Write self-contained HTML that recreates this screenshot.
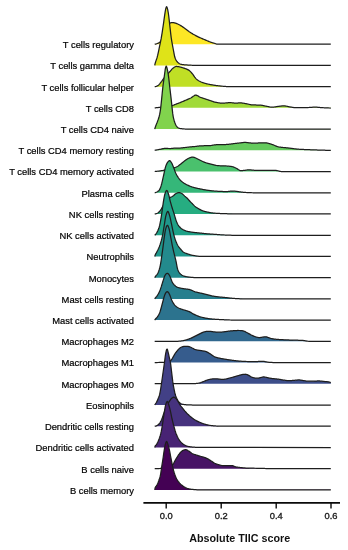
<!DOCTYPE html>
<html lang="en"><head><meta charset="utf-8"><title>Absolute TIIC score</title>
<style>html,body{margin:0;padding:0;background:#fff}body{width:348px;height:550px;overflow:hidden}svg{display:block}</style></head>
<body>
<svg width="348" height="550" viewBox="0 0 348 550">
<rect width="348" height="550" fill="#ffffff"/>
<path d="M154.7,44.20 L155.2,44.14 L155.7,44.04 L156.2,43.90 L156.7,43.73 L157.2,43.54 L157.7,43.33 L158.2,43.11 L158.7,42.84 L159.2,42.53 L159.7,42.15 L160.2,41.73 L160.7,41.24 L161.2,40.70 L161.7,40.00 L162.2,39.07 L162.7,37.96 L163.2,36.74 L163.7,35.46 L164.2,34.16 L164.7,32.91 L165.2,31.73 L165.7,30.46 L166.2,29.12 L166.7,27.82 L167.2,26.63 L167.7,25.65 L168.2,24.94 L168.7,24.33 L169.2,23.79 L169.7,23.35 L170.2,23.02 L170.7,22.84 L171.2,22.69 L171.7,22.58 L172.2,22.51 L172.7,22.51 L173.2,22.56 L173.7,22.66 L174.2,22.78 L174.7,22.92 L175.2,23.05 L175.7,23.21 L176.2,23.39 L176.7,23.58 L177.2,23.80 L177.7,24.03 L178.2,24.27 L178.7,24.52 L179.2,24.78 L179.7,25.04 L180.2,25.31 L180.7,25.59 L181.2,25.89 L181.7,26.21 L182.2,26.54 L182.7,26.88 L183.2,27.23 L183.7,27.58 L184.2,27.94 L184.7,28.29 L185.2,28.64 L185.7,29.00 L186.2,29.38 L186.7,29.76 L187.2,30.14 L187.7,30.53 L188.2,30.91 L188.7,31.28 L189.2,31.65 L189.7,32.00 L190.2,32.33 L190.7,32.66 L191.2,32.98 L191.7,33.29 L192.2,33.59 L192.7,33.89 L193.2,34.19 L193.7,34.47 L194.2,34.76 L194.7,35.04 L195.2,35.31 L195.7,35.58 L196.2,35.84 L196.7,36.10 L197.2,36.35 L197.7,36.61 L198.2,36.85 L198.7,37.09 L199.2,37.33 L199.7,37.56 L200.2,37.79 L200.7,38.01 L201.2,38.23 L201.7,38.44 L202.2,38.65 L202.7,38.85 L203.2,39.06 L203.7,39.26 L204.2,39.47 L204.7,39.67 L205.2,39.88 L205.7,40.10 L206.2,40.32 L206.7,40.54 L207.2,40.75 L207.7,40.97 L208.2,41.18 L208.7,41.39 L209.2,41.60 L209.7,41.79 L210.2,41.97 L210.7,42.15 L211.2,42.32 L211.7,42.49 L212.2,42.66 L212.7,42.81 L213.2,42.97 L213.7,43.11 L214.2,43.26 L214.7,43.42 L215.2,43.58 L215.7,43.75 L216.2,43.90 L216.7,44.03 L217.2,44.13 L217.7,44.19 L330.8,44.20 L330.8,44.20 L154.7,44.20 Z" fill="#fde725" fill-opacity="1" stroke="none"/>
<path d="M154.7,44.20 L155.2,44.14 L155.7,44.04 L156.2,43.90 L156.7,43.73 L157.2,43.54 L157.7,43.33 L158.2,43.11 L158.7,42.84 L159.2,42.53 L159.7,42.15 L160.2,41.73 L160.7,41.24 L161.2,40.70 L161.7,40.00 L162.2,39.07 L162.7,37.96 L163.2,36.74 L163.7,35.46 L164.2,34.16 L164.7,32.91 L165.2,31.73 L165.7,30.46 L166.2,29.12 L166.7,27.82 L167.2,26.63 L167.7,25.65 L168.2,24.94 L168.7,24.33 L169.2,23.79 L169.7,23.35 L170.2,23.02 L170.7,22.84 L171.2,22.69 L171.7,22.58 L172.2,22.51 L172.7,22.51 L173.2,22.56 L173.7,22.66 L174.2,22.78 L174.7,22.92 L175.2,23.05 L175.7,23.21 L176.2,23.39 L176.7,23.58 L177.2,23.80 L177.7,24.03 L178.2,24.27 L178.7,24.52 L179.2,24.78 L179.7,25.04 L180.2,25.31 L180.7,25.59 L181.2,25.89 L181.7,26.21 L182.2,26.54 L182.7,26.88 L183.2,27.23 L183.7,27.58 L184.2,27.94 L184.7,28.29 L185.2,28.64 L185.7,29.00 L186.2,29.38 L186.7,29.76 L187.2,30.14 L187.7,30.53 L188.2,30.91 L188.7,31.28 L189.2,31.65 L189.7,32.00 L190.2,32.33 L190.7,32.66 L191.2,32.98 L191.7,33.29 L192.2,33.59 L192.7,33.89 L193.2,34.19 L193.7,34.47 L194.2,34.76 L194.7,35.04 L195.2,35.31 L195.7,35.58 L196.2,35.84 L196.7,36.10 L197.2,36.35 L197.7,36.61 L198.2,36.85 L198.7,37.09 L199.2,37.33 L199.7,37.56 L200.2,37.79 L200.7,38.01 L201.2,38.23 L201.7,38.44 L202.2,38.65 L202.7,38.85 L203.2,39.06 L203.7,39.26 L204.2,39.47 L204.7,39.67 L205.2,39.88 L205.7,40.10 L206.2,40.32 L206.7,40.54 L207.2,40.75 L207.7,40.97 L208.2,41.18 L208.7,41.39 L209.2,41.60 L209.7,41.79 L210.2,41.97 L210.7,42.15 L211.2,42.32 L211.7,42.49 L212.2,42.66 L212.7,42.81 L213.2,42.97 L213.7,43.11 L214.2,43.26 L214.7,43.42 L215.2,43.58 L215.7,43.75 L216.2,43.90 L216.7,44.03 L217.2,44.13 L217.7,44.19 L330.8,44.20" fill="none" stroke="#1e1e1e" stroke-width="1.25" stroke-linejoin="round"/>
<path d="M154.7,65.38 L155.2,63.23 L155.7,61.60 L156.2,60.11 L156.7,58.73 L157.2,57.13 L157.7,55.14 L158.2,52.92 L158.7,50.62 L159.2,48.18 L159.7,45.67 L160.2,43.26 L160.7,40.92 L161.2,38.38 L161.7,35.48 L162.2,32.30 L162.7,28.96 L163.2,25.58 L163.7,22.05 L164.2,18.36 L164.7,14.81 L165.2,11.63 L165.7,8.85 L166.2,7.26 L166.7,6.73 L167.2,7.86 L167.7,9.63 L168.2,12.28 L168.7,15.75 L169.2,20.15 L169.7,24.72 L170.2,29.13 L170.7,33.64 L171.2,37.68 L171.7,40.86 L172.2,43.60 L172.7,46.33 L173.2,49.01 L173.7,51.61 L174.2,54.37 L174.7,56.79 L175.2,58.31 L175.7,59.47 L176.2,60.40 L176.7,61.15 L177.2,61.77 L177.7,62.30 L178.2,62.75 L178.7,63.12 L179.2,63.44 L179.7,63.74 L180.2,64.01 L180.7,64.22 L181.2,64.36 L181.7,64.45 L182.2,64.53 L182.7,64.60 L183.2,64.66 L183.7,64.72 L184.2,64.77 L184.7,64.81 L185.2,64.85 L185.7,64.89 L186.2,64.92 L186.7,64.96 L187.2,64.99 L187.7,65.02 L188.2,65.04 L188.7,65.07 L189.2,65.10 L189.7,65.13 L190.2,65.16 L190.7,65.19 L191.2,65.22 L191.7,65.25 L192.2,65.27 L192.7,65.30 L193.2,65.32 L194.2,65.36 L195.2,65.38 L330.8,65.38 L330.8,65.42 L154.7,65.42 Z" fill="#dfe318" fill-opacity="1" stroke="none"/>
<path d="M154.7,65.38 L155.2,63.23 L155.7,61.60 L156.2,60.11 L156.7,58.73 L157.2,57.13 L157.7,55.14 L158.2,52.92 L158.7,50.62 L159.2,48.18 L159.7,45.67 L160.2,43.26 L160.7,40.92 L161.2,38.38 L161.7,35.48 L162.2,32.30 L162.7,28.96 L163.2,25.58 L163.7,22.05 L164.2,18.36 L164.7,14.81 L165.2,11.63 L165.7,8.85 L166.2,7.26 L166.7,6.73 L167.2,7.86 L167.7,9.63 L168.2,12.28 L168.7,15.75 L169.2,20.15 L169.7,24.72 L170.2,29.13 L170.7,33.64 L171.2,37.68 L171.7,40.86 L172.2,43.60 L172.7,46.33 L173.2,49.01 L173.7,51.61 L174.2,54.37 L174.7,56.79 L175.2,58.31 L175.7,59.47 L176.2,60.40 L176.7,61.15 L177.2,61.77 L177.7,62.30 L178.2,62.75 L178.7,63.12 L179.2,63.44 L179.7,63.74 L180.2,64.01 L180.7,64.22 L181.2,64.36 L181.7,64.45 L182.2,64.53 L182.7,64.60 L183.2,64.66 L183.7,64.72 L184.2,64.77 L184.7,64.81 L185.2,64.85 L185.7,64.89 L186.2,64.92 L186.7,64.96 L187.2,64.99 L187.7,65.02 L188.2,65.04 L188.7,65.07 L189.2,65.10 L189.7,65.13 L190.2,65.16 L190.7,65.19 L191.2,65.22 L191.7,65.25 L192.2,65.27 L192.7,65.30 L193.2,65.32 L194.2,65.36 L195.2,65.38 L330.8,65.38" fill="none" stroke="#1e1e1e" stroke-width="1.25" stroke-linejoin="round"/>
<path d="M154.7,86.67 L155.2,86.63 L155.7,86.52 L156.2,86.35 L156.7,86.14 L157.2,85.90 L157.7,85.63 L158.2,85.34 L158.7,84.94 L159.2,84.42 L159.7,83.82 L160.2,83.18 L160.7,82.54 L161.2,81.92 L161.7,81.28 L162.2,80.60 L162.7,79.91 L163.2,79.22 L163.7,78.55 L164.2,77.92 L164.7,77.31 L165.2,76.72 L165.7,76.14 L166.2,75.57 L166.7,75.00 L167.2,74.45 L167.7,73.90 L168.2,73.37 L168.7,72.85 L169.2,72.32 L169.7,71.79 L170.2,71.25 L170.7,70.66 L171.2,70.04 L171.7,69.44 L172.2,68.88 L172.7,68.40 L173.2,68.03 L173.7,67.66 L174.2,67.31 L174.7,67.00 L175.2,66.74 L175.7,66.55 L176.2,66.47 L176.7,66.48 L177.2,66.51 L177.7,66.57 L178.2,66.65 L178.7,66.73 L179.2,66.82 L179.7,66.90 L180.2,67.01 L180.7,67.14 L181.2,67.28 L181.7,67.43 L182.2,67.58 L182.7,67.73 L183.2,67.88 L183.7,68.04 L184.2,68.21 L184.7,68.38 L185.2,68.56 L185.7,68.75 L186.2,68.95 L186.7,69.14 L187.2,69.35 L187.7,69.57 L188.2,69.82 L188.7,70.11 L189.2,70.45 L189.7,70.87 L190.2,71.35 L190.7,71.88 L191.2,72.45 L191.7,73.03 L192.2,73.62 L192.7,74.21 L193.2,74.86 L193.7,75.57 L194.2,76.30 L194.7,77.03 L195.2,77.72 L195.7,78.35 L196.2,78.88 L196.7,79.31 L197.2,79.72 L197.7,80.09 L198.2,80.43 L198.7,80.75 L199.2,81.04 L199.7,81.31 L200.2,81.57 L200.7,81.80 L201.2,82.02 L201.7,82.22 L202.2,82.42 L202.7,82.60 L203.2,82.77 L203.7,82.93 L204.2,83.09 L204.7,83.24 L205.2,83.38 L205.7,83.52 L206.2,83.65 L206.7,83.78 L207.2,83.90 L207.7,84.01 L208.2,84.13 L208.7,84.24 L209.2,84.34 L209.7,84.44 L210.2,84.54 L210.7,84.64 L211.2,84.73 L211.7,84.82 L212.2,84.90 L212.7,84.98 L213.2,85.07 L213.7,85.15 L214.2,85.22 L214.7,85.30 L215.2,85.37 L215.7,85.44 L216.2,85.51 L216.7,85.57 L217.2,85.63 L217.7,85.69 L218.2,85.75 L218.7,85.81 L219.2,85.87 L219.7,85.92 L220.2,85.98 L220.7,86.04 L221.2,86.09 L221.7,86.15 L222.2,86.20 L222.7,86.25 L223.2,86.30 L223.7,86.35 L224.2,86.39 L224.7,86.43 L225.2,86.46 L225.7,86.49 L226.2,86.52 L226.7,86.54 L227.7,86.57 L228.7,86.59 L230.2,86.62 L231.7,86.65 L234.2,86.67 L330.8,86.67 L330.8,86.65 L154.7,86.65 Z" fill="#c0df25" fill-opacity="1" stroke="none"/>
<path d="M154.7,86.67 L155.2,86.63 L155.7,86.52 L156.2,86.35 L156.7,86.14 L157.2,85.90 L157.7,85.63 L158.2,85.34 L158.7,84.94 L159.2,84.42 L159.7,83.82 L160.2,83.18 L160.7,82.54 L161.2,81.92 L161.7,81.28 L162.2,80.60 L162.7,79.91 L163.2,79.22 L163.7,78.55 L164.2,77.92 L164.7,77.31 L165.2,76.72 L165.7,76.14 L166.2,75.57 L166.7,75.00 L167.2,74.45 L167.7,73.90 L168.2,73.37 L168.7,72.85 L169.2,72.32 L169.7,71.79 L170.2,71.25 L170.7,70.66 L171.2,70.04 L171.7,69.44 L172.2,68.88 L172.7,68.40 L173.2,68.03 L173.7,67.66 L174.2,67.31 L174.7,67.00 L175.2,66.74 L175.7,66.55 L176.2,66.47 L176.7,66.48 L177.2,66.51 L177.7,66.57 L178.2,66.65 L178.7,66.73 L179.2,66.82 L179.7,66.90 L180.2,67.01 L180.7,67.14 L181.2,67.28 L181.7,67.43 L182.2,67.58 L182.7,67.73 L183.2,67.88 L183.7,68.04 L184.2,68.21 L184.7,68.38 L185.2,68.56 L185.7,68.75 L186.2,68.95 L186.7,69.14 L187.2,69.35 L187.7,69.57 L188.2,69.82 L188.7,70.11 L189.2,70.45 L189.7,70.87 L190.2,71.35 L190.7,71.88 L191.2,72.45 L191.7,73.03 L192.2,73.62 L192.7,74.21 L193.2,74.86 L193.7,75.57 L194.2,76.30 L194.7,77.03 L195.2,77.72 L195.7,78.35 L196.2,78.88 L196.7,79.31 L197.2,79.72 L197.7,80.09 L198.2,80.43 L198.7,80.75 L199.2,81.04 L199.7,81.31 L200.2,81.57 L200.7,81.80 L201.2,82.02 L201.7,82.22 L202.2,82.42 L202.7,82.60 L203.2,82.77 L203.7,82.93 L204.2,83.09 L204.7,83.24 L205.2,83.38 L205.7,83.52 L206.2,83.65 L206.7,83.78 L207.2,83.90 L207.7,84.01 L208.2,84.13 L208.7,84.24 L209.2,84.34 L209.7,84.44 L210.2,84.54 L210.7,84.64 L211.2,84.73 L211.7,84.82 L212.2,84.90 L212.7,84.98 L213.2,85.07 L213.7,85.15 L214.2,85.22 L214.7,85.30 L215.2,85.37 L215.7,85.44 L216.2,85.51 L216.7,85.57 L217.2,85.63 L217.7,85.69 L218.2,85.75 L218.7,85.81 L219.2,85.87 L219.7,85.92 L220.2,85.98 L220.7,86.04 L221.2,86.09 L221.7,86.15 L222.2,86.20 L222.7,86.25 L223.2,86.30 L223.7,86.35 L224.2,86.39 L224.7,86.43 L225.2,86.46 L225.7,86.49 L226.2,86.52 L226.7,86.54 L227.7,86.57 L228.7,86.59 L230.2,86.62 L231.7,86.65 L234.2,86.67 L330.8,86.67" fill="none" stroke="#1e1e1e" stroke-width="1.25" stroke-linejoin="round"/>
<path d="M154.7,107.85 L155.2,107.82 L155.7,107.78 L156.2,107.73 L156.7,107.69 L157.2,107.64 L157.7,107.60 L158.2,107.55 L158.7,107.49 L159.2,107.44 L159.7,107.39 L160.2,107.33 L160.7,107.27 L161.2,107.20 L161.7,107.14 L162.2,107.07 L162.7,107.00 L163.2,106.92 L163.7,106.85 L164.2,106.77 L164.7,106.70 L165.2,106.62 L165.7,106.55 L166.2,106.48 L166.7,106.41 L167.2,106.35 L167.7,106.28 L168.2,106.21 L168.7,106.14 L169.2,106.07 L169.7,105.99 L170.2,105.91 L170.7,105.82 L171.2,105.73 L171.7,105.63 L172.2,105.52 L172.7,105.40 L173.2,105.25 L173.7,105.08 L174.2,104.88 L174.7,104.68 L175.2,104.47 L175.7,104.27 L176.2,104.08 L176.7,103.89 L177.2,103.71 L177.7,103.53 L178.2,103.34 L178.7,103.15 L179.2,102.96 L179.7,102.77 L180.2,102.57 L180.7,102.37 L181.2,102.16 L181.7,101.95 L182.2,101.73 L182.7,101.51 L183.2,101.30 L183.7,101.08 L184.2,100.87 L184.7,100.66 L185.2,100.44 L185.7,100.23 L186.2,100.02 L186.7,99.81 L187.2,99.59 L187.7,99.36 L188.2,99.14 L188.7,98.92 L189.2,98.70 L189.7,98.47 L190.2,98.23 L190.7,97.98 L191.2,97.71 L191.7,97.40 L192.2,97.05 L192.7,96.69 L193.2,96.34 L193.7,96.03 L194.2,95.68 L194.7,95.35 L195.2,95.12 L195.7,95.05 L196.2,95.14 L196.7,95.33 L197.2,95.56 L197.7,95.81 L198.2,96.06 L198.7,96.37 L199.2,96.70 L199.7,97.01 L200.2,97.24 L200.7,97.43 L201.2,97.59 L201.7,97.75 L202.2,97.90 L202.7,98.05 L203.2,98.22 L203.7,98.38 L204.2,98.55 L204.7,98.72 L205.2,98.88 L205.7,99.05 L206.2,99.22 L206.7,99.38 L207.2,99.55 L207.7,99.72 L208.2,99.89 L208.7,100.06 L209.2,100.24 L209.7,100.41 L210.2,100.58 L210.7,100.75 L211.2,100.92 L211.7,101.10 L212.2,101.28 L212.7,101.46 L213.2,101.64 L213.7,101.81 L214.2,101.96 L214.7,102.09 L215.2,102.19 L215.7,102.29 L216.2,102.39 L216.7,102.48 L217.2,102.58 L217.7,102.67 L218.2,102.75 L218.7,102.83 L219.2,102.90 L219.7,102.97 L220.2,103.02 L220.7,103.07 L221.2,103.11 L221.7,103.14 L223.2,103.14 L223.7,103.12 L224.2,103.09 L224.7,103.05 L225.2,103.00 L225.7,102.96 L226.2,102.91 L226.7,102.86 L227.2,102.81 L227.7,102.76 L228.2,102.72 L228.7,102.69 L229.2,102.67 L230.7,102.67 L231.2,102.70 L231.7,102.75 L232.2,102.80 L232.7,102.86 L233.2,102.93 L233.7,102.99 L234.2,103.04 L234.7,103.09 L235.2,103.13 L235.7,103.15 L236.2,103.15 L236.7,103.13 L237.2,103.09 L237.7,103.04 L238.2,102.98 L238.7,102.93 L239.2,102.88 L239.7,102.86 L240.7,102.87 L241.2,102.90 L241.7,102.95 L242.2,103.01 L242.7,103.09 L243.2,103.16 L243.7,103.25 L244.2,103.34 L244.7,103.43 L245.2,103.52 L245.7,103.60 L246.2,103.69 L246.7,103.78 L247.2,103.89 L247.7,104.00 L248.2,104.13 L248.7,104.25 L249.2,104.37 L249.7,104.49 L250.2,104.60 L250.7,104.69 L251.2,104.77 L251.7,104.83 L252.2,104.86 L252.7,104.89 L253.2,104.92 L253.7,104.94 L254.7,104.97 L255.7,104.99 L256.7,105.02 L257.7,105.04 L258.7,105.07 L259.2,105.09 L259.7,105.12 L260.2,105.15 L260.7,105.18 L261.2,105.24 L261.7,105.31 L262.2,105.39 L262.7,105.48 L263.2,105.58 L263.7,105.69 L264.2,105.80 L264.7,105.90 L265.2,106.00 L265.7,106.10 L266.2,106.19 L266.7,106.28 L267.2,106.39 L267.7,106.50 L268.2,106.61 L268.7,106.72 L269.2,106.82 L269.7,106.92 L270.2,107.00 L270.7,107.07 L271.2,107.12 L271.7,107.15 L272.7,107.13 L273.2,107.10 L273.7,107.05 L274.2,107.00 L274.7,106.93 L275.2,106.86 L275.7,106.78 L276.2,106.70 L276.7,106.62 L277.2,106.55 L277.7,106.49 L278.2,106.43 L278.7,106.37 L279.2,106.30 L279.7,106.23 L280.2,106.16 L280.7,106.09 L281.2,106.03 L281.7,105.97 L282.2,105.92 L282.7,105.88 L283.2,105.86 L284.2,105.87 L284.7,105.91 L285.2,105.97 L285.7,106.05 L286.2,106.14 L286.7,106.25 L287.2,106.36 L287.7,106.48 L288.2,106.60 L288.7,106.71 L289.2,106.81 L289.7,106.90 L290.2,106.98 L290.7,107.06 L291.2,107.15 L291.7,107.24 L292.2,107.33 L292.7,107.41 L293.2,107.48 L293.7,107.55 L294.2,107.60 L294.7,107.64 L306.7,107.62 L307.2,107.59 L307.7,107.57 L308.2,107.54 L308.7,107.50 L309.2,107.47 L309.7,107.43 L310.2,107.40 L310.7,107.36 L311.2,107.33 L311.7,107.29 L312.2,107.26 L312.7,107.23 L313.2,107.21 L313.7,107.18 L314.7,107.16 L316.2,107.17 L316.7,107.20 L317.2,107.23 L317.7,107.27 L318.2,107.31 L318.7,107.36 L319.2,107.41 L319.7,107.46 L320.2,107.51 L320.7,107.55 L321.2,107.60 L321.7,107.63 L322.2,107.66 L322.7,107.69 L323.2,107.72 L323.7,107.75 L324.2,107.77 L324.7,107.80 L325.2,107.82 L325.7,107.85 L326.2,107.87 L326.7,107.90 L327.2,107.92 L327.7,107.94 L328.2,107.96 L329.2,108.00 L330.2,108.03 L330.8,108.05 L330.8,107.87 L154.7,107.87 Z" fill="#a0da39" fill-opacity="1" stroke="none"/>
<path d="M154.7,107.85 L155.2,107.82 L155.7,107.78 L156.2,107.73 L156.7,107.69 L157.2,107.64 L157.7,107.60 L158.2,107.55 L158.7,107.49 L159.2,107.44 L159.7,107.39 L160.2,107.33 L160.7,107.27 L161.2,107.20 L161.7,107.14 L162.2,107.07 L162.7,107.00 L163.2,106.92 L163.7,106.85 L164.2,106.77 L164.7,106.70 L165.2,106.62 L165.7,106.55 L166.2,106.48 L166.7,106.41 L167.2,106.35 L167.7,106.28 L168.2,106.21 L168.7,106.14 L169.2,106.07 L169.7,105.99 L170.2,105.91 L170.7,105.82 L171.2,105.73 L171.7,105.63 L172.2,105.52 L172.7,105.40 L173.2,105.25 L173.7,105.08 L174.2,104.88 L174.7,104.68 L175.2,104.47 L175.7,104.27 L176.2,104.08 L176.7,103.89 L177.2,103.71 L177.7,103.53 L178.2,103.34 L178.7,103.15 L179.2,102.96 L179.7,102.77 L180.2,102.57 L180.7,102.37 L181.2,102.16 L181.7,101.95 L182.2,101.73 L182.7,101.51 L183.2,101.30 L183.7,101.08 L184.2,100.87 L184.7,100.66 L185.2,100.44 L185.7,100.23 L186.2,100.02 L186.7,99.81 L187.2,99.59 L187.7,99.36 L188.2,99.14 L188.7,98.92 L189.2,98.70 L189.7,98.47 L190.2,98.23 L190.7,97.98 L191.2,97.71 L191.7,97.40 L192.2,97.05 L192.7,96.69 L193.2,96.34 L193.7,96.03 L194.2,95.68 L194.7,95.35 L195.2,95.12 L195.7,95.05 L196.2,95.14 L196.7,95.33 L197.2,95.56 L197.7,95.81 L198.2,96.06 L198.7,96.37 L199.2,96.70 L199.7,97.01 L200.2,97.24 L200.7,97.43 L201.2,97.59 L201.7,97.75 L202.2,97.90 L202.7,98.05 L203.2,98.22 L203.7,98.38 L204.2,98.55 L204.7,98.72 L205.2,98.88 L205.7,99.05 L206.2,99.22 L206.7,99.38 L207.2,99.55 L207.7,99.72 L208.2,99.89 L208.7,100.06 L209.2,100.24 L209.7,100.41 L210.2,100.58 L210.7,100.75 L211.2,100.92 L211.7,101.10 L212.2,101.28 L212.7,101.46 L213.2,101.64 L213.7,101.81 L214.2,101.96 L214.7,102.09 L215.2,102.19 L215.7,102.29 L216.2,102.39 L216.7,102.48 L217.2,102.58 L217.7,102.67 L218.2,102.75 L218.7,102.83 L219.2,102.90 L219.7,102.97 L220.2,103.02 L220.7,103.07 L221.2,103.11 L221.7,103.14 L223.2,103.14 L223.7,103.12 L224.2,103.09 L224.7,103.05 L225.2,103.00 L225.7,102.96 L226.2,102.91 L226.7,102.86 L227.2,102.81 L227.7,102.76 L228.2,102.72 L228.7,102.69 L229.2,102.67 L230.7,102.67 L231.2,102.70 L231.7,102.75 L232.2,102.80 L232.7,102.86 L233.2,102.93 L233.7,102.99 L234.2,103.04 L234.7,103.09 L235.2,103.13 L235.7,103.15 L236.2,103.15 L236.7,103.13 L237.2,103.09 L237.7,103.04 L238.2,102.98 L238.7,102.93 L239.2,102.88 L239.7,102.86 L240.7,102.87 L241.2,102.90 L241.7,102.95 L242.2,103.01 L242.7,103.09 L243.2,103.16 L243.7,103.25 L244.2,103.34 L244.7,103.43 L245.2,103.52 L245.7,103.60 L246.2,103.69 L246.7,103.78 L247.2,103.89 L247.7,104.00 L248.2,104.13 L248.7,104.25 L249.2,104.37 L249.7,104.49 L250.2,104.60 L250.7,104.69 L251.2,104.77 L251.7,104.83 L252.2,104.86 L252.7,104.89 L253.2,104.92 L253.7,104.94 L254.7,104.97 L255.7,104.99 L256.7,105.02 L257.7,105.04 L258.7,105.07 L259.2,105.09 L259.7,105.12 L260.2,105.15 L260.7,105.18 L261.2,105.24 L261.7,105.31 L262.2,105.39 L262.7,105.48 L263.2,105.58 L263.7,105.69 L264.2,105.80 L264.7,105.90 L265.2,106.00 L265.7,106.10 L266.2,106.19 L266.7,106.28 L267.2,106.39 L267.7,106.50 L268.2,106.61 L268.7,106.72 L269.2,106.82 L269.7,106.92 L270.2,107.00 L270.7,107.07 L271.2,107.12 L271.7,107.15 L272.7,107.13 L273.2,107.10 L273.7,107.05 L274.2,107.00 L274.7,106.93 L275.2,106.86 L275.7,106.78 L276.2,106.70 L276.7,106.62 L277.2,106.55 L277.7,106.49 L278.2,106.43 L278.7,106.37 L279.2,106.30 L279.7,106.23 L280.2,106.16 L280.7,106.09 L281.2,106.03 L281.7,105.97 L282.2,105.92 L282.7,105.88 L283.2,105.86 L284.2,105.87 L284.7,105.91 L285.2,105.97 L285.7,106.05 L286.2,106.14 L286.7,106.25 L287.2,106.36 L287.7,106.48 L288.2,106.60 L288.7,106.71 L289.2,106.81 L289.7,106.90 L290.2,106.98 L290.7,107.06 L291.2,107.15 L291.7,107.24 L292.2,107.33 L292.7,107.41 L293.2,107.48 L293.7,107.55 L294.2,107.60 L294.7,107.64 L306.7,107.62 L307.2,107.59 L307.7,107.57 L308.2,107.54 L308.7,107.50 L309.2,107.47 L309.7,107.43 L310.2,107.40 L310.7,107.36 L311.2,107.33 L311.7,107.29 L312.2,107.26 L312.7,107.23 L313.2,107.21 L313.7,107.18 L314.7,107.16 L316.2,107.17 L316.7,107.20 L317.2,107.23 L317.7,107.27 L318.2,107.31 L318.7,107.36 L319.2,107.41 L319.7,107.46 L320.2,107.51 L320.7,107.55 L321.2,107.60 L321.7,107.63 L322.2,107.66 L322.7,107.69 L323.2,107.72 L323.7,107.75 L324.2,107.77 L324.7,107.80 L325.2,107.82 L325.7,107.85 L326.2,107.87 L326.7,107.90 L327.2,107.92 L327.7,107.94 L328.2,107.96 L329.2,108.00 L330.2,108.03 L330.8,108.05" fill="none" stroke="#1e1e1e" stroke-width="1.25" stroke-linejoin="round"/>
<path d="M154.7,129.14 L155.2,127.52 L155.7,126.02 L156.2,124.68 L156.7,123.47 L157.2,122.21 L157.7,120.86 L158.2,119.51 L158.7,118.05 L159.2,116.32 L159.7,114.17 L160.2,111.35 L160.7,107.94 L161.2,103.35 L161.7,98.36 L162.2,93.25 L162.7,88.41 L163.2,84.28 L163.7,80.55 L164.2,76.99 L164.7,73.29 L165.2,69.50 L165.7,67.19 L166.2,66.04 L166.7,67.00 L167.2,68.81 L167.7,71.19 L168.2,74.19 L168.7,77.79 L169.2,82.16 L169.7,86.67 L170.2,90.90 L170.7,95.10 L171.2,99.44 L171.7,104.14 L172.2,108.85 L172.7,113.41 L173.2,116.61 L173.7,118.87 L174.2,120.69 L174.7,122.23 L175.2,123.62 L175.7,124.81 L176.2,125.74 L176.7,126.44 L177.2,127.00 L177.7,127.44 L178.2,127.78 L178.7,128.07 L179.2,128.28 L179.7,128.40 L180.2,128.51 L180.7,128.60 L181.2,128.67 L181.7,128.74 L182.2,128.80 L182.7,128.85 L183.2,128.89 L183.7,128.93 L184.2,128.96 L184.7,129.00 L185.2,129.03 L185.7,129.06 L186.2,129.09 L186.7,129.11 L187.7,129.13 L330.8,129.14 L330.8,129.10 L154.7,129.10 Z" fill="#81d34d" fill-opacity="1" stroke="none"/>
<path d="M154.7,129.14 L155.2,127.52 L155.7,126.02 L156.2,124.68 L156.7,123.47 L157.2,122.21 L157.7,120.86 L158.2,119.51 L158.7,118.05 L159.2,116.32 L159.7,114.17 L160.2,111.35 L160.7,107.94 L161.2,103.35 L161.7,98.36 L162.2,93.25 L162.7,88.41 L163.2,84.28 L163.7,80.55 L164.2,76.99 L164.7,73.29 L165.2,69.50 L165.7,67.19 L166.2,66.04 L166.7,67.00 L167.2,68.81 L167.7,71.19 L168.2,74.19 L168.7,77.79 L169.2,82.16 L169.7,86.67 L170.2,90.90 L170.7,95.10 L171.2,99.44 L171.7,104.14 L172.2,108.85 L172.7,113.41 L173.2,116.61 L173.7,118.87 L174.2,120.69 L174.7,122.23 L175.2,123.62 L175.7,124.81 L176.2,125.74 L176.7,126.44 L177.2,127.00 L177.7,127.44 L178.2,127.78 L178.7,128.07 L179.2,128.28 L179.7,128.40 L180.2,128.51 L180.7,128.60 L181.2,128.67 L181.7,128.74 L182.2,128.80 L182.7,128.85 L183.2,128.89 L183.7,128.93 L184.2,128.96 L184.7,129.00 L185.2,129.03 L185.7,129.06 L186.2,129.09 L186.7,129.11 L187.7,129.13 L330.8,129.14" fill="none" stroke="#1e1e1e" stroke-width="1.25" stroke-linejoin="round"/>
<path d="M154.7,150.32 L155.2,150.22 L155.7,150.13 L156.2,150.03 L156.7,149.94 L157.2,149.84 L157.7,149.75 L158.2,149.65 L158.7,149.56 L159.2,149.47 L159.7,149.38 L160.2,149.28 L160.7,149.18 L161.2,149.06 L161.7,148.94 L162.2,148.82 L162.7,148.71 L163.2,148.61 L163.7,148.52 L164.2,148.46 L164.7,148.43 L166.7,148.45 L167.7,148.48 L168.7,148.50 L170.7,148.50 L171.2,148.47 L171.7,148.42 L172.2,148.37 L172.7,148.32 L173.2,148.26 L173.7,148.21 L174.2,148.17 L174.7,148.13 L175.7,148.10 L177.2,148.07 L178.7,148.05 L179.7,148.03 L180.2,148.01 L180.7,147.99 L181.2,147.95 L181.7,147.90 L182.2,147.85 L182.7,147.79 L183.2,147.73 L183.7,147.67 L184.2,147.61 L184.7,147.55 L185.2,147.50 L185.7,147.44 L186.2,147.38 L186.7,147.31 L187.2,147.25 L187.7,147.19 L188.2,147.12 L188.7,147.06 L189.2,147.00 L189.7,146.95 L190.2,146.90 L190.7,146.86 L191.2,146.82 L191.7,146.78 L192.2,146.74 L192.7,146.71 L193.2,146.67 L193.7,146.63 L194.2,146.59 L194.7,146.55 L195.2,146.50 L195.7,146.44 L196.2,146.38 L196.7,146.31 L197.2,146.24 L197.7,146.17 L198.2,146.10 L198.7,146.04 L199.2,145.98 L199.7,145.94 L200.2,145.91 L200.7,145.88 L201.2,145.86 L201.7,145.83 L202.2,145.81 L203.2,145.77 L204.2,145.74 L205.2,145.71 L206.2,145.69 L207.7,145.67 L209.2,145.64 L210.2,145.61 L210.7,145.57 L211.2,145.50 L211.7,145.41 L212.2,145.31 L212.7,145.21 L213.2,145.11 L213.7,145.01 L214.2,144.92 L214.7,144.85 L215.2,144.80 L215.7,144.76 L216.2,144.72 L216.7,144.67 L217.2,144.64 L217.7,144.60 L218.2,144.57 L218.7,144.55 L219.7,144.52 L225.7,144.51 L226.2,144.48 L226.7,144.45 L227.2,144.41 L227.7,144.36 L228.2,144.31 L228.7,144.26 L229.2,144.20 L229.7,144.15 L230.2,144.10 L230.7,144.04 L231.2,143.98 L231.7,143.91 L232.2,143.84 L232.7,143.77 L233.2,143.69 L233.7,143.62 L234.2,143.56 L234.7,143.50 L235.2,143.44 L235.7,143.38 L236.2,143.32 L236.7,143.27 L237.2,143.21 L237.7,143.16 L238.2,143.11 L238.7,143.06 L239.2,143.00 L239.7,142.95 L240.2,142.90 L240.7,142.84 L241.2,142.78 L241.7,142.71 L242.2,142.64 L242.7,142.58 L243.2,142.52 L243.7,142.48 L244.2,142.44 L245.2,142.42 L245.7,142.44 L246.2,142.48 L246.7,142.53 L247.2,142.59 L247.7,142.65 L248.2,142.72 L248.7,142.78 L249.2,142.84 L249.7,142.90 L250.2,142.93 L250.7,142.97 L251.2,143.01 L251.7,143.05 L252.2,143.09 L252.7,143.12 L253.2,143.15 L253.7,143.18 L254.2,143.20 L255.2,143.22 L255.7,143.21 L256.2,143.18 L256.7,143.13 L257.2,143.08 L257.7,143.01 L258.2,142.95 L258.7,142.89 L259.2,142.85 L259.7,142.82 L265.7,142.83 L266.2,142.87 L266.7,142.93 L267.2,143.02 L267.7,143.13 L268.2,143.25 L268.7,143.39 L269.2,143.54 L269.7,143.69 L270.2,143.86 L270.7,144.02 L271.2,144.18 L271.7,144.33 L272.2,144.48 L272.7,144.65 L273.2,144.84 L273.7,145.04 L274.2,145.26 L274.7,145.48 L275.2,145.70 L275.7,145.92 L276.2,146.13 L276.7,146.33 L277.2,146.52 L277.7,146.68 L278.2,146.81 L278.7,146.92 L279.2,147.00 L279.7,147.08 L280.2,147.16 L280.7,147.22 L281.2,147.29 L281.7,147.34 L282.2,147.40 L282.7,147.45 L283.2,147.50 L283.7,147.55 L284.2,147.59 L284.7,147.64 L285.2,147.68 L285.7,147.72 L286.2,147.77 L286.7,147.82 L287.2,147.86 L287.7,147.91 L288.2,147.96 L288.7,148.02 L289.2,148.08 L289.7,148.14 L290.2,148.20 L290.7,148.27 L291.2,148.34 L291.7,148.41 L292.2,148.48 L292.7,148.55 L293.2,148.61 L293.7,148.68 L294.2,148.75 L294.7,148.81 L295.2,148.88 L295.7,148.94 L296.2,148.99 L296.7,149.05 L297.2,149.10 L297.7,149.14 L298.2,149.18 L298.7,149.22 L299.2,149.25 L299.7,149.28 L300.2,149.31 L300.7,149.34 L301.2,149.37 L301.7,149.39 L302.2,149.42 L302.7,149.45 L303.2,149.47 L303.7,149.49 L304.2,149.51 L304.7,149.54 L305.2,149.56 L305.7,149.58 L306.7,149.62 L307.7,149.66 L308.7,149.69 L309.7,149.73 L310.7,149.76 L311.7,149.79 L312.7,149.83 L313.7,149.86 L314.7,149.90 L315.7,149.93 L316.7,149.97 L317.7,150.01 L318.7,150.04 L319.7,150.08 L320.7,150.11 L321.7,150.14 L322.7,150.18 L323.7,150.21 L324.7,150.24 L325.7,150.27 L326.7,150.30 L327.7,150.33 L328.7,150.36 L329.7,150.39 L330.7,150.42 L330.8,150.42 L330.8,150.32 L154.7,150.32 Z" fill="#65cb5e" fill-opacity="1" stroke="none"/>
<path d="M154.7,150.32 L155.2,150.22 L155.7,150.13 L156.2,150.03 L156.7,149.94 L157.2,149.84 L157.7,149.75 L158.2,149.65 L158.7,149.56 L159.2,149.47 L159.7,149.38 L160.2,149.28 L160.7,149.18 L161.2,149.06 L161.7,148.94 L162.2,148.82 L162.7,148.71 L163.2,148.61 L163.7,148.52 L164.2,148.46 L164.7,148.43 L166.7,148.45 L167.7,148.48 L168.7,148.50 L170.7,148.50 L171.2,148.47 L171.7,148.42 L172.2,148.37 L172.7,148.32 L173.2,148.26 L173.7,148.21 L174.2,148.17 L174.7,148.13 L175.7,148.10 L177.2,148.07 L178.7,148.05 L179.7,148.03 L180.2,148.01 L180.7,147.99 L181.2,147.95 L181.7,147.90 L182.2,147.85 L182.7,147.79 L183.2,147.73 L183.7,147.67 L184.2,147.61 L184.7,147.55 L185.2,147.50 L185.7,147.44 L186.2,147.38 L186.7,147.31 L187.2,147.25 L187.7,147.19 L188.2,147.12 L188.7,147.06 L189.2,147.00 L189.7,146.95 L190.2,146.90 L190.7,146.86 L191.2,146.82 L191.7,146.78 L192.2,146.74 L192.7,146.71 L193.2,146.67 L193.7,146.63 L194.2,146.59 L194.7,146.55 L195.2,146.50 L195.7,146.44 L196.2,146.38 L196.7,146.31 L197.2,146.24 L197.7,146.17 L198.2,146.10 L198.7,146.04 L199.2,145.98 L199.7,145.94 L200.2,145.91 L200.7,145.88 L201.2,145.86 L201.7,145.83 L202.2,145.81 L203.2,145.77 L204.2,145.74 L205.2,145.71 L206.2,145.69 L207.7,145.67 L209.2,145.64 L210.2,145.61 L210.7,145.57 L211.2,145.50 L211.7,145.41 L212.2,145.31 L212.7,145.21 L213.2,145.11 L213.7,145.01 L214.2,144.92 L214.7,144.85 L215.2,144.80 L215.7,144.76 L216.2,144.72 L216.7,144.67 L217.2,144.64 L217.7,144.60 L218.2,144.57 L218.7,144.55 L219.7,144.52 L225.7,144.51 L226.2,144.48 L226.7,144.45 L227.2,144.41 L227.7,144.36 L228.2,144.31 L228.7,144.26 L229.2,144.20 L229.7,144.15 L230.2,144.10 L230.7,144.04 L231.2,143.98 L231.7,143.91 L232.2,143.84 L232.7,143.77 L233.2,143.69 L233.7,143.62 L234.2,143.56 L234.7,143.50 L235.2,143.44 L235.7,143.38 L236.2,143.32 L236.7,143.27 L237.2,143.21 L237.7,143.16 L238.2,143.11 L238.7,143.06 L239.2,143.00 L239.7,142.95 L240.2,142.90 L240.7,142.84 L241.2,142.78 L241.7,142.71 L242.2,142.64 L242.7,142.58 L243.2,142.52 L243.7,142.48 L244.2,142.44 L245.2,142.42 L245.7,142.44 L246.2,142.48 L246.7,142.53 L247.2,142.59 L247.7,142.65 L248.2,142.72 L248.7,142.78 L249.2,142.84 L249.7,142.90 L250.2,142.93 L250.7,142.97 L251.2,143.01 L251.7,143.05 L252.2,143.09 L252.7,143.12 L253.2,143.15 L253.7,143.18 L254.2,143.20 L255.2,143.22 L255.7,143.21 L256.2,143.18 L256.7,143.13 L257.2,143.08 L257.7,143.01 L258.2,142.95 L258.7,142.89 L259.2,142.85 L259.7,142.82 L265.7,142.83 L266.2,142.87 L266.7,142.93 L267.2,143.02 L267.7,143.13 L268.2,143.25 L268.7,143.39 L269.2,143.54 L269.7,143.69 L270.2,143.86 L270.7,144.02 L271.2,144.18 L271.7,144.33 L272.2,144.48 L272.7,144.65 L273.2,144.84 L273.7,145.04 L274.2,145.26 L274.7,145.48 L275.2,145.70 L275.7,145.92 L276.2,146.13 L276.7,146.33 L277.2,146.52 L277.7,146.68 L278.2,146.81 L278.7,146.92 L279.2,147.00 L279.7,147.08 L280.2,147.16 L280.7,147.22 L281.2,147.29 L281.7,147.34 L282.2,147.40 L282.7,147.45 L283.2,147.50 L283.7,147.55 L284.2,147.59 L284.7,147.64 L285.2,147.68 L285.7,147.72 L286.2,147.77 L286.7,147.82 L287.2,147.86 L287.7,147.91 L288.2,147.96 L288.7,148.02 L289.2,148.08 L289.7,148.14 L290.2,148.20 L290.7,148.27 L291.2,148.34 L291.7,148.41 L292.2,148.48 L292.7,148.55 L293.2,148.61 L293.7,148.68 L294.2,148.75 L294.7,148.81 L295.2,148.88 L295.7,148.94 L296.2,148.99 L296.7,149.05 L297.2,149.10 L297.7,149.14 L298.2,149.18 L298.7,149.22 L299.2,149.25 L299.7,149.28 L300.2,149.31 L300.7,149.34 L301.2,149.37 L301.7,149.39 L302.2,149.42 L302.7,149.45 L303.2,149.47 L303.7,149.49 L304.2,149.51 L304.7,149.54 L305.2,149.56 L305.7,149.58 L306.7,149.62 L307.7,149.66 L308.7,149.69 L309.7,149.73 L310.7,149.76 L311.7,149.79 L312.7,149.83 L313.7,149.86 L314.7,149.90 L315.7,149.93 L316.7,149.97 L317.7,150.01 L318.7,150.04 L319.7,150.08 L320.7,150.11 L321.7,150.14 L322.7,150.18 L323.7,150.21 L324.7,150.24 L325.7,150.27 L326.7,150.30 L327.7,150.33 L328.7,150.36 L329.7,150.39 L330.7,150.42 L330.8,150.42" fill="none" stroke="#1e1e1e" stroke-width="1.25" stroke-linejoin="round"/>
<path d="M154.7,171.50 L155.2,171.46 L155.7,171.41 L156.2,171.36 L156.7,171.31 L157.2,171.25 L157.7,171.19 L158.2,171.13 L158.7,171.07 L159.2,171.01 L159.7,170.94 L160.2,170.88 L160.7,170.81 L161.2,170.73 L161.7,170.66 L162.2,170.58 L162.7,170.50 L163.2,170.42 L163.7,170.33 L164.2,170.24 L164.7,170.16 L165.2,170.07 L165.7,169.98 L166.2,169.89 L166.7,169.80 L167.2,169.70 L167.7,169.60 L168.2,169.50 L168.7,169.40 L169.2,169.29 L169.7,169.18 L170.2,169.06 L170.7,168.93 L171.2,168.79 L171.7,168.65 L172.2,168.50 L172.7,168.34 L173.2,168.18 L173.7,168.01 L174.2,167.83 L174.7,167.65 L175.2,167.46 L175.7,167.26 L176.2,167.04 L176.7,166.81 L177.2,166.56 L177.7,166.29 L178.2,165.97 L178.7,165.61 L179.2,165.22 L179.7,164.83 L180.2,164.45 L180.7,164.06 L181.2,163.66 L181.7,163.25 L182.2,162.85 L182.7,162.44 L183.2,162.03 L183.7,161.62 L184.2,161.22 L184.7,160.83 L185.2,160.46 L185.7,160.09 L186.2,159.73 L186.7,159.40 L187.2,159.08 L187.7,158.79 L188.2,158.52 L188.7,158.25 L189.2,158.01 L189.7,157.81 L190.2,157.64 L190.7,157.47 L191.2,157.32 L191.7,157.19 L192.2,157.12 L192.7,157.11 L193.2,157.17 L193.7,157.29 L194.2,157.44 L194.7,157.61 L195.2,157.77 L195.7,157.98 L196.2,158.22 L196.7,158.49 L197.2,158.75 L197.7,159.00 L198.2,159.26 L198.7,159.53 L199.2,159.79 L199.7,160.05 L200.2,160.30 L200.7,160.55 L201.2,160.80 L201.7,161.04 L202.2,161.27 L202.7,161.49 L203.2,161.71 L203.7,161.92 L204.2,162.13 L204.7,162.33 L205.2,162.52 L205.7,162.70 L206.2,162.87 L206.7,163.02 L207.2,163.17 L207.7,163.31 L208.2,163.44 L208.7,163.57 L209.2,163.70 L209.7,163.83 L210.2,163.96 L210.7,164.09 L211.2,164.22 L211.7,164.35 L212.2,164.47 L212.7,164.60 L213.2,164.72 L213.7,164.84 L214.2,164.95 L214.7,165.07 L215.2,165.19 L215.7,165.30 L216.2,165.41 L216.7,165.50 L217.2,165.57 L217.7,165.62 L218.2,165.66 L218.7,165.69 L219.2,165.72 L219.7,165.75 L220.2,165.77 L221.2,165.81 L222.2,165.84 L223.7,165.87 L224.7,165.89 L225.2,165.91 L225.7,165.94 L226.2,165.97 L226.7,166.00 L227.2,166.04 L227.7,166.08 L228.2,166.13 L228.7,166.17 L229.2,166.22 L229.7,166.28 L230.2,166.33 L230.7,166.40 L231.2,166.47 L231.7,166.55 L232.2,166.64 L232.7,166.75 L233.2,166.89 L233.7,167.06 L234.2,167.26 L234.7,167.48 L235.2,167.72 L235.7,167.96 L236.2,168.21 L236.7,168.49 L237.2,168.80 L237.7,169.12 L238.2,169.43 L238.7,169.72 L239.2,170.05 L239.7,170.36 L240.2,170.56 L240.7,170.60 L241.2,170.59 L241.7,170.57 L242.2,170.54 L242.7,170.51 L243.2,170.47 L243.7,170.43 L244.2,170.39 L244.7,170.33 L245.2,170.26 L245.7,170.17 L246.2,170.08 L246.7,170.00 L247.2,169.92 L247.7,169.86 L248.2,169.82 L249.2,169.81 L249.7,169.83 L250.2,169.87 L250.7,169.91 L251.2,169.96 L251.7,170.02 L252.2,170.07 L252.7,170.13 L253.2,170.18 L253.7,170.23 L254.2,170.27 L254.7,170.29 L255.7,170.32 L256.7,170.34 L258.2,170.37 L259.7,170.39 L275.7,170.42 L276.2,170.46 L276.7,170.54 L277.2,170.64 L277.7,170.76 L278.2,170.88 L278.7,171.02 L279.2,171.15 L279.7,171.28 L280.2,171.39 L280.7,171.49 L281.2,171.56 L281.7,171.60 L285.2,171.57 L286.7,171.54 L288.2,171.52 L330.8,171.50 L330.8,171.54 L154.7,171.54 Z" fill="#4ac16d" fill-opacity="1" stroke="none"/>
<path d="M154.7,171.50 L155.2,171.46 L155.7,171.41 L156.2,171.36 L156.7,171.31 L157.2,171.25 L157.7,171.19 L158.2,171.13 L158.7,171.07 L159.2,171.01 L159.7,170.94 L160.2,170.88 L160.7,170.81 L161.2,170.73 L161.7,170.66 L162.2,170.58 L162.7,170.50 L163.2,170.42 L163.7,170.33 L164.2,170.24 L164.7,170.16 L165.2,170.07 L165.7,169.98 L166.2,169.89 L166.7,169.80 L167.2,169.70 L167.7,169.60 L168.2,169.50 L168.7,169.40 L169.2,169.29 L169.7,169.18 L170.2,169.06 L170.7,168.93 L171.2,168.79 L171.7,168.65 L172.2,168.50 L172.7,168.34 L173.2,168.18 L173.7,168.01 L174.2,167.83 L174.7,167.65 L175.2,167.46 L175.7,167.26 L176.2,167.04 L176.7,166.81 L177.2,166.56 L177.7,166.29 L178.2,165.97 L178.7,165.61 L179.2,165.22 L179.7,164.83 L180.2,164.45 L180.7,164.06 L181.2,163.66 L181.7,163.25 L182.2,162.85 L182.7,162.44 L183.2,162.03 L183.7,161.62 L184.2,161.22 L184.7,160.83 L185.2,160.46 L185.7,160.09 L186.2,159.73 L186.7,159.40 L187.2,159.08 L187.7,158.79 L188.2,158.52 L188.7,158.25 L189.2,158.01 L189.7,157.81 L190.2,157.64 L190.7,157.47 L191.2,157.32 L191.7,157.19 L192.2,157.12 L192.7,157.11 L193.2,157.17 L193.7,157.29 L194.2,157.44 L194.7,157.61 L195.2,157.77 L195.7,157.98 L196.2,158.22 L196.7,158.49 L197.2,158.75 L197.7,159.00 L198.2,159.26 L198.7,159.53 L199.2,159.79 L199.7,160.05 L200.2,160.30 L200.7,160.55 L201.2,160.80 L201.7,161.04 L202.2,161.27 L202.7,161.49 L203.2,161.71 L203.7,161.92 L204.2,162.13 L204.7,162.33 L205.2,162.52 L205.7,162.70 L206.2,162.87 L206.7,163.02 L207.2,163.17 L207.7,163.31 L208.2,163.44 L208.7,163.57 L209.2,163.70 L209.7,163.83 L210.2,163.96 L210.7,164.09 L211.2,164.22 L211.7,164.35 L212.2,164.47 L212.7,164.60 L213.2,164.72 L213.7,164.84 L214.2,164.95 L214.7,165.07 L215.2,165.19 L215.7,165.30 L216.2,165.41 L216.7,165.50 L217.2,165.57 L217.7,165.62 L218.2,165.66 L218.7,165.69 L219.2,165.72 L219.7,165.75 L220.2,165.77 L221.2,165.81 L222.2,165.84 L223.7,165.87 L224.7,165.89 L225.2,165.91 L225.7,165.94 L226.2,165.97 L226.7,166.00 L227.2,166.04 L227.7,166.08 L228.2,166.13 L228.7,166.17 L229.2,166.22 L229.7,166.28 L230.2,166.33 L230.7,166.40 L231.2,166.47 L231.7,166.55 L232.2,166.64 L232.7,166.75 L233.2,166.89 L233.7,167.06 L234.2,167.26 L234.7,167.48 L235.2,167.72 L235.7,167.96 L236.2,168.21 L236.7,168.49 L237.2,168.80 L237.7,169.12 L238.2,169.43 L238.7,169.72 L239.2,170.05 L239.7,170.36 L240.2,170.56 L240.7,170.60 L241.2,170.59 L241.7,170.57 L242.2,170.54 L242.7,170.51 L243.2,170.47 L243.7,170.43 L244.2,170.39 L244.7,170.33 L245.2,170.26 L245.7,170.17 L246.2,170.08 L246.7,170.00 L247.2,169.92 L247.7,169.86 L248.2,169.82 L249.2,169.81 L249.7,169.83 L250.2,169.87 L250.7,169.91 L251.2,169.96 L251.7,170.02 L252.2,170.07 L252.7,170.13 L253.2,170.18 L253.7,170.23 L254.2,170.27 L254.7,170.29 L255.7,170.32 L256.7,170.34 L258.2,170.37 L259.7,170.39 L275.7,170.42 L276.2,170.46 L276.7,170.54 L277.2,170.64 L277.7,170.76 L278.2,170.88 L278.7,171.02 L279.2,171.15 L279.7,171.28 L280.2,171.39 L280.7,171.49 L281.2,171.56 L281.7,171.60 L285.2,171.57 L286.7,171.54 L288.2,171.52 L330.8,171.50" fill="none" stroke="#1e1e1e" stroke-width="1.25" stroke-linejoin="round"/>
<path d="M154.7,192.79 L155.2,192.64 L155.7,192.45 L156.2,192.23 L156.7,191.99 L157.2,191.73 L157.7,191.44 L158.2,191.11 L158.7,190.70 L159.2,190.20 L159.7,189.47 L160.2,188.34 L160.7,186.94 L161.2,185.40 L161.7,183.70 L162.2,181.65 L162.7,179.43 L163.2,177.21 L163.7,175.01 L164.2,172.63 L164.7,170.27 L165.2,168.11 L165.7,166.37 L166.2,165.06 L166.7,163.91 L167.2,162.96 L167.7,162.21 L168.2,161.62 L168.7,161.08 L169.2,160.70 L169.7,160.60 L170.2,160.91 L170.7,161.52 L171.2,162.24 L171.7,163.05 L172.2,164.10 L172.7,165.31 L173.2,166.59 L173.7,167.85 L174.2,169.09 L174.7,170.41 L175.2,171.72 L175.7,172.94 L176.2,173.99 L176.7,174.95 L177.2,175.86 L177.7,176.70 L178.2,177.49 L178.7,178.20 L179.2,178.84 L179.7,179.43 L180.2,179.98 L180.7,180.50 L181.2,180.98 L181.7,181.43 L182.2,181.85 L182.7,182.24 L183.2,182.61 L183.7,182.95 L184.2,183.28 L184.7,183.59 L185.2,183.89 L185.7,184.17 L186.2,184.43 L186.7,184.69 L187.2,184.94 L187.7,185.18 L188.2,185.41 L188.7,185.64 L189.2,185.86 L189.7,186.07 L190.2,186.27 L190.7,186.47 L191.2,186.65 L191.7,186.83 L192.2,186.99 L192.7,187.15 L193.2,187.30 L193.7,187.44 L194.2,187.57 L194.7,187.71 L195.2,187.83 L195.7,187.95 L196.2,188.07 L196.7,188.19 L197.2,188.30 L197.7,188.41 L198.2,188.51 L198.7,188.62 L199.2,188.72 L199.7,188.83 L200.2,188.93 L200.7,189.03 L201.2,189.13 L201.7,189.23 L202.2,189.32 L202.7,189.42 L203.2,189.51 L203.7,189.60 L204.2,189.68 L204.7,189.77 L205.2,189.86 L205.7,189.94 L206.2,190.02 L206.7,190.10 L207.2,190.19 L207.7,190.27 L208.2,190.35 L208.7,190.42 L209.2,190.49 L209.7,190.55 L210.2,190.61 L210.7,190.66 L211.2,190.72 L211.7,190.77 L212.2,190.82 L212.7,190.87 L213.2,190.91 L213.7,190.96 L214.2,191.00 L214.7,191.05 L215.2,191.09 L215.7,191.13 L216.2,191.17 L216.7,191.20 L217.2,191.24 L217.7,191.27 L218.2,191.30 L218.7,191.33 L219.2,191.35 L219.7,191.37 L220.2,191.40 L220.7,191.42 L221.2,191.44 L221.7,191.46 L222.2,191.48 L223.2,191.52 L224.2,191.55 L225.2,191.57 L227.2,191.58 L227.7,191.54 L228.2,191.49 L228.7,191.43 L229.2,191.36 L229.7,191.29 L230.2,191.22 L230.7,191.16 L231.2,191.12 L231.7,191.09 L233.2,191.11 L233.7,191.13 L234.2,191.16 L234.7,191.19 L235.2,191.23 L235.7,191.27 L236.2,191.30 L236.7,191.36 L237.2,191.43 L237.7,191.51 L238.2,191.60 L238.7,191.69 L239.2,191.77 L239.7,191.85 L240.2,191.91 L240.7,191.97 L241.2,192.03 L241.7,192.09 L242.2,192.15 L242.7,192.21 L243.2,192.26 L243.7,192.31 L244.2,192.36 L244.7,192.40 L245.2,192.44 L245.7,192.47 L246.2,192.50 L246.7,192.52 L247.2,192.55 L247.7,192.57 L248.2,192.60 L248.7,192.62 L249.2,192.64 L249.7,192.66 L250.2,192.68 L251.2,192.72 L252.2,192.75 L253.2,192.77 L330.8,192.79 L330.8,192.77 L154.7,192.77 Z" fill="#35b779" fill-opacity="1" stroke="none"/>
<path d="M154.7,192.79 L155.2,192.64 L155.7,192.45 L156.2,192.23 L156.7,191.99 L157.2,191.73 L157.7,191.44 L158.2,191.11 L158.7,190.70 L159.2,190.20 L159.7,189.47 L160.2,188.34 L160.7,186.94 L161.2,185.40 L161.7,183.70 L162.2,181.65 L162.7,179.43 L163.2,177.21 L163.7,175.01 L164.2,172.63 L164.7,170.27 L165.2,168.11 L165.7,166.37 L166.2,165.06 L166.7,163.91 L167.2,162.96 L167.7,162.21 L168.2,161.62 L168.7,161.08 L169.2,160.70 L169.7,160.60 L170.2,160.91 L170.7,161.52 L171.2,162.24 L171.7,163.05 L172.2,164.10 L172.7,165.31 L173.2,166.59 L173.7,167.85 L174.2,169.09 L174.7,170.41 L175.2,171.72 L175.7,172.94 L176.2,173.99 L176.7,174.95 L177.2,175.86 L177.7,176.70 L178.2,177.49 L178.7,178.20 L179.2,178.84 L179.7,179.43 L180.2,179.98 L180.7,180.50 L181.2,180.98 L181.7,181.43 L182.2,181.85 L182.7,182.24 L183.2,182.61 L183.7,182.95 L184.2,183.28 L184.7,183.59 L185.2,183.89 L185.7,184.17 L186.2,184.43 L186.7,184.69 L187.2,184.94 L187.7,185.18 L188.2,185.41 L188.7,185.64 L189.2,185.86 L189.7,186.07 L190.2,186.27 L190.7,186.47 L191.2,186.65 L191.7,186.83 L192.2,186.99 L192.7,187.15 L193.2,187.30 L193.7,187.44 L194.2,187.57 L194.7,187.71 L195.2,187.83 L195.7,187.95 L196.2,188.07 L196.7,188.19 L197.2,188.30 L197.7,188.41 L198.2,188.51 L198.7,188.62 L199.2,188.72 L199.7,188.83 L200.2,188.93 L200.7,189.03 L201.2,189.13 L201.7,189.23 L202.2,189.32 L202.7,189.42 L203.2,189.51 L203.7,189.60 L204.2,189.68 L204.7,189.77 L205.2,189.86 L205.7,189.94 L206.2,190.02 L206.7,190.10 L207.2,190.19 L207.7,190.27 L208.2,190.35 L208.7,190.42 L209.2,190.49 L209.7,190.55 L210.2,190.61 L210.7,190.66 L211.2,190.72 L211.7,190.77 L212.2,190.82 L212.7,190.87 L213.2,190.91 L213.7,190.96 L214.2,191.00 L214.7,191.05 L215.2,191.09 L215.7,191.13 L216.2,191.17 L216.7,191.20 L217.2,191.24 L217.7,191.27 L218.2,191.30 L218.7,191.33 L219.2,191.35 L219.7,191.37 L220.2,191.40 L220.7,191.42 L221.2,191.44 L221.7,191.46 L222.2,191.48 L223.2,191.52 L224.2,191.55 L225.2,191.57 L227.2,191.58 L227.7,191.54 L228.2,191.49 L228.7,191.43 L229.2,191.36 L229.7,191.29 L230.2,191.22 L230.7,191.16 L231.2,191.12 L231.7,191.09 L233.2,191.11 L233.7,191.13 L234.2,191.16 L234.7,191.19 L235.2,191.23 L235.7,191.27 L236.2,191.30 L236.7,191.36 L237.2,191.43 L237.7,191.51 L238.2,191.60 L238.7,191.69 L239.2,191.77 L239.7,191.85 L240.2,191.91 L240.7,191.97 L241.2,192.03 L241.7,192.09 L242.2,192.15 L242.7,192.21 L243.2,192.26 L243.7,192.31 L244.2,192.36 L244.7,192.40 L245.2,192.44 L245.7,192.47 L246.2,192.50 L246.7,192.52 L247.2,192.55 L247.7,192.57 L248.2,192.60 L248.7,192.62 L249.2,192.64 L249.7,192.66 L250.2,192.68 L251.2,192.72 L252.2,192.75 L253.2,192.77 L330.8,192.79" fill="none" stroke="#1e1e1e" stroke-width="1.25" stroke-linejoin="round"/>
<path d="M154.7,213.97 L155.2,213.94 L155.7,213.84 L156.2,213.69 L156.7,213.50 L157.2,213.28 L157.7,213.03 L158.2,212.75 L158.7,212.32 L159.2,211.77 L159.7,211.15 L160.2,210.52 L160.7,209.82 L161.2,209.05 L161.7,208.23 L162.2,207.40 L162.7,206.56 L163.2,205.74 L163.7,204.87 L164.2,203.97 L164.7,203.08 L165.2,202.23 L165.7,201.47 L166.2,200.82 L166.7,200.23 L167.2,199.67 L167.7,199.15 L168.2,198.69 L168.7,198.28 L169.2,197.95 L169.7,197.67 L170.2,197.43 L170.7,197.22 L171.2,197.01 L171.7,196.79 L172.2,196.54 L172.7,196.24 L173.2,195.86 L173.7,195.43 L174.2,194.97 L174.7,194.51 L175.2,194.09 L175.7,193.74 L176.2,193.47 L176.7,193.22 L177.2,192.99 L177.7,192.79 L178.2,192.64 L178.7,192.57 L179.2,192.60 L179.7,192.69 L180.2,192.84 L180.7,193.03 L181.2,193.24 L181.7,193.47 L182.2,193.78 L182.7,194.18 L183.2,194.63 L183.7,195.12 L184.2,195.62 L184.7,196.10 L185.2,196.54 L185.7,196.97 L186.2,197.39 L186.7,197.83 L187.2,198.28 L187.7,198.77 L188.2,199.32 L188.7,199.89 L189.2,200.48 L189.7,201.05 L190.2,201.58 L190.7,202.09 L191.2,202.59 L191.7,203.08 L192.2,203.57 L192.7,204.07 L193.2,204.60 L193.7,205.13 L194.2,205.64 L194.7,206.12 L195.2,206.53 L195.7,206.90 L196.2,207.24 L196.7,207.57 L197.2,207.88 L197.7,208.20 L198.2,208.52 L198.7,208.83 L199.2,209.13 L199.7,209.42 L200.2,209.67 L200.7,209.92 L201.2,210.16 L201.7,210.38 L202.2,210.59 L202.7,210.79 L203.2,210.97 L203.7,211.13 L204.2,211.28 L204.7,211.42 L205.2,211.55 L205.7,211.67 L206.2,211.79 L206.7,211.90 L207.2,212.01 L207.7,212.11 L208.2,212.22 L208.7,212.32 L209.2,212.42 L209.7,212.51 L210.2,212.60 L210.7,212.69 L211.2,212.76 L211.7,212.83 L212.2,212.90 L212.7,212.95 L213.2,213.01 L213.7,213.06 L214.2,213.11 L214.7,213.16 L215.2,213.21 L215.7,213.25 L216.2,213.29 L216.7,213.32 L217.2,213.35 L217.7,213.38 L218.2,213.41 L218.7,213.44 L219.2,213.46 L219.7,213.49 L220.2,213.51 L220.7,213.53 L221.2,213.55 L221.7,213.57 L222.7,213.61 L223.7,213.65 L224.7,213.68 L225.7,213.71 L226.7,213.74 L227.7,213.76 L228.7,213.79 L229.7,213.81 L230.7,213.84 L231.7,213.86 L232.7,213.88 L233.7,213.90 L235.2,213.93 L236.7,213.95 L239.2,213.97 L330.8,213.97 L330.8,213.99 L154.7,213.99 Z" fill="#26ad81" fill-opacity="1" stroke="none"/>
<path d="M154.7,213.97 L155.2,213.94 L155.7,213.84 L156.2,213.69 L156.7,213.50 L157.2,213.28 L157.7,213.03 L158.2,212.75 L158.7,212.32 L159.2,211.77 L159.7,211.15 L160.2,210.52 L160.7,209.82 L161.2,209.05 L161.7,208.23 L162.2,207.40 L162.7,206.56 L163.2,205.74 L163.7,204.87 L164.2,203.97 L164.7,203.08 L165.2,202.23 L165.7,201.47 L166.2,200.82 L166.7,200.23 L167.2,199.67 L167.7,199.15 L168.2,198.69 L168.7,198.28 L169.2,197.95 L169.7,197.67 L170.2,197.43 L170.7,197.22 L171.2,197.01 L171.7,196.79 L172.2,196.54 L172.7,196.24 L173.2,195.86 L173.7,195.43 L174.2,194.97 L174.7,194.51 L175.2,194.09 L175.7,193.74 L176.2,193.47 L176.7,193.22 L177.2,192.99 L177.7,192.79 L178.2,192.64 L178.7,192.57 L179.2,192.60 L179.7,192.69 L180.2,192.84 L180.7,193.03 L181.2,193.24 L181.7,193.47 L182.2,193.78 L182.7,194.18 L183.2,194.63 L183.7,195.12 L184.2,195.62 L184.7,196.10 L185.2,196.54 L185.7,196.97 L186.2,197.39 L186.7,197.83 L187.2,198.28 L187.7,198.77 L188.2,199.32 L188.7,199.89 L189.2,200.48 L189.7,201.05 L190.2,201.58 L190.7,202.09 L191.2,202.59 L191.7,203.08 L192.2,203.57 L192.7,204.07 L193.2,204.60 L193.7,205.13 L194.2,205.64 L194.7,206.12 L195.2,206.53 L195.7,206.90 L196.2,207.24 L196.7,207.57 L197.2,207.88 L197.7,208.20 L198.2,208.52 L198.7,208.83 L199.2,209.13 L199.7,209.42 L200.2,209.67 L200.7,209.92 L201.2,210.16 L201.7,210.38 L202.2,210.59 L202.7,210.79 L203.2,210.97 L203.7,211.13 L204.2,211.28 L204.7,211.42 L205.2,211.55 L205.7,211.67 L206.2,211.79 L206.7,211.90 L207.2,212.01 L207.7,212.11 L208.2,212.22 L208.7,212.32 L209.2,212.42 L209.7,212.51 L210.2,212.60 L210.7,212.69 L211.2,212.76 L211.7,212.83 L212.2,212.90 L212.7,212.95 L213.2,213.01 L213.7,213.06 L214.2,213.11 L214.7,213.16 L215.2,213.21 L215.7,213.25 L216.2,213.29 L216.7,213.32 L217.2,213.35 L217.7,213.38 L218.2,213.41 L218.7,213.44 L219.2,213.46 L219.7,213.49 L220.2,213.51 L220.7,213.53 L221.2,213.55 L221.7,213.57 L222.7,213.61 L223.7,213.65 L224.7,213.68 L225.7,213.71 L226.7,213.74 L227.7,213.76 L228.7,213.79 L229.7,213.81 L230.7,213.84 L231.7,213.86 L232.7,213.88 L233.7,213.90 L235.2,213.93 L236.7,213.95 L239.2,213.97 L330.8,213.97" fill="none" stroke="#1e1e1e" stroke-width="1.25" stroke-linejoin="round"/>
<path d="M154.7,235.26 L155.2,234.76 L155.7,234.18 L156.2,233.52 L156.7,232.78 L157.2,231.93 L157.7,230.96 L158.2,229.86 L158.7,228.58 L159.2,227.09 L159.7,225.19 L160.2,222.75 L160.7,220.06 L161.2,217.10 L161.7,213.86 L162.2,210.26 L162.7,206.48 L163.2,203.06 L163.7,199.96 L164.2,197.05 L164.7,194.73 L165.2,193.18 L165.7,191.83 L166.2,190.84 L166.7,190.46 L167.2,190.86 L167.7,191.89 L168.2,193.23 L168.7,194.67 L169.2,196.65 L169.7,198.93 L170.2,201.06 L170.7,202.91 L171.2,204.69 L171.7,206.39 L172.2,208.03 L172.7,209.59 L173.2,211.10 L173.7,212.62 L174.2,214.17 L174.7,215.84 L175.2,217.57 L175.7,219.24 L176.2,220.76 L176.7,222.04 L177.2,223.18 L177.7,224.19 L178.2,225.06 L178.7,225.80 L179.2,226.47 L179.7,227.05 L180.2,227.56 L180.7,228.00 L181.2,228.40 L181.7,228.78 L182.2,229.12 L182.7,229.42 L183.2,229.70 L183.7,229.95 L184.2,230.19 L184.7,230.41 L185.2,230.61 L185.7,230.81 L186.2,230.98 L186.7,231.14 L187.2,231.28 L187.7,231.40 L188.2,231.52 L188.7,231.62 L189.2,231.72 L189.7,231.82 L190.2,231.90 L190.7,231.99 L191.2,232.06 L191.7,232.14 L192.2,232.21 L192.7,232.28 L193.2,232.34 L193.7,232.41 L194.2,232.47 L194.7,232.53 L195.2,232.58 L195.7,232.63 L196.2,232.68 L196.7,232.73 L197.2,232.78 L197.7,232.83 L198.2,232.88 L198.7,232.93 L199.2,232.97 L199.7,233.02 L200.2,233.08 L200.7,233.13 L201.2,233.18 L201.7,233.24 L202.2,233.29 L202.7,233.35 L203.2,233.41 L203.7,233.46 L204.2,233.51 L204.7,233.57 L205.2,233.62 L205.7,233.66 L206.2,233.71 L206.7,233.76 L207.2,233.80 L207.7,233.84 L208.2,233.88 L208.7,233.92 L209.2,233.95 L209.7,233.99 L210.2,234.03 L210.7,234.06 L211.2,234.09 L211.7,234.13 L212.2,234.16 L212.7,234.20 L213.2,234.23 L213.7,234.26 L214.2,234.30 L214.7,234.33 L215.2,234.37 L215.7,234.41 L216.2,234.45 L216.7,234.48 L217.2,234.52 L217.7,234.56 L218.2,234.60 L218.7,234.64 L219.2,234.68 L219.7,234.71 L220.2,234.75 L220.7,234.78 L221.2,234.81 L221.7,234.84 L222.2,234.87 L222.7,234.89 L223.2,234.92 L223.7,234.95 L224.2,234.98 L224.7,235.00 L225.2,235.03 L225.7,235.06 L226.2,235.08 L226.7,235.11 L227.2,235.13 L227.7,235.15 L228.2,235.17 L229.2,235.21 L230.2,235.24 L232.2,235.26 L330.8,235.26 L330.8,235.22 L154.7,235.22 Z" fill="#1fa187" fill-opacity="1" stroke="none"/>
<path d="M154.7,235.26 L155.2,234.76 L155.7,234.18 L156.2,233.52 L156.7,232.78 L157.2,231.93 L157.7,230.96 L158.2,229.86 L158.7,228.58 L159.2,227.09 L159.7,225.19 L160.2,222.75 L160.7,220.06 L161.2,217.10 L161.7,213.86 L162.2,210.26 L162.7,206.48 L163.2,203.06 L163.7,199.96 L164.2,197.05 L164.7,194.73 L165.2,193.18 L165.7,191.83 L166.2,190.84 L166.7,190.46 L167.2,190.86 L167.7,191.89 L168.2,193.23 L168.7,194.67 L169.2,196.65 L169.7,198.93 L170.2,201.06 L170.7,202.91 L171.2,204.69 L171.7,206.39 L172.2,208.03 L172.7,209.59 L173.2,211.10 L173.7,212.62 L174.2,214.17 L174.7,215.84 L175.2,217.57 L175.7,219.24 L176.2,220.76 L176.7,222.04 L177.2,223.18 L177.7,224.19 L178.2,225.06 L178.7,225.80 L179.2,226.47 L179.7,227.05 L180.2,227.56 L180.7,228.00 L181.2,228.40 L181.7,228.78 L182.2,229.12 L182.7,229.42 L183.2,229.70 L183.7,229.95 L184.2,230.19 L184.7,230.41 L185.2,230.61 L185.7,230.81 L186.2,230.98 L186.7,231.14 L187.2,231.28 L187.7,231.40 L188.2,231.52 L188.7,231.62 L189.2,231.72 L189.7,231.82 L190.2,231.90 L190.7,231.99 L191.2,232.06 L191.7,232.14 L192.2,232.21 L192.7,232.28 L193.2,232.34 L193.7,232.41 L194.2,232.47 L194.7,232.53 L195.2,232.58 L195.7,232.63 L196.2,232.68 L196.7,232.73 L197.2,232.78 L197.7,232.83 L198.2,232.88 L198.7,232.93 L199.2,232.97 L199.7,233.02 L200.2,233.08 L200.7,233.13 L201.2,233.18 L201.7,233.24 L202.2,233.29 L202.7,233.35 L203.2,233.41 L203.7,233.46 L204.2,233.51 L204.7,233.57 L205.2,233.62 L205.7,233.66 L206.2,233.71 L206.7,233.76 L207.2,233.80 L207.7,233.84 L208.2,233.88 L208.7,233.92 L209.2,233.95 L209.7,233.99 L210.2,234.03 L210.7,234.06 L211.2,234.09 L211.7,234.13 L212.2,234.16 L212.7,234.20 L213.2,234.23 L213.7,234.26 L214.2,234.30 L214.7,234.33 L215.2,234.37 L215.7,234.41 L216.2,234.45 L216.7,234.48 L217.2,234.52 L217.7,234.56 L218.2,234.60 L218.7,234.64 L219.2,234.68 L219.7,234.71 L220.2,234.75 L220.7,234.78 L221.2,234.81 L221.7,234.84 L222.2,234.87 L222.7,234.89 L223.2,234.92 L223.7,234.95 L224.2,234.98 L224.7,235.00 L225.2,235.03 L225.7,235.06 L226.2,235.08 L226.7,235.11 L227.2,235.13 L227.7,235.15 L228.2,235.17 L229.2,235.21 L230.2,235.24 L232.2,235.26 L330.8,235.26" fill="none" stroke="#1e1e1e" stroke-width="1.25" stroke-linejoin="round"/>
<path d="M154.7,256.44 L155.2,254.93 L155.7,253.85 L156.2,253.05 L156.7,252.18 L157.2,251.25 L157.7,250.29 L158.2,249.26 L158.7,248.13 L159.2,246.91 L159.7,245.60 L160.2,244.17 L160.7,242.61 L161.2,240.90 L161.7,239.01 L162.2,236.91 L162.7,234.54 L163.2,231.76 L163.7,228.71 L164.2,225.64 L164.7,222.47 L165.2,219.11 L165.7,216.32 L166.2,214.56 L166.7,213.06 L167.2,211.91 L167.7,211.36 L168.2,211.66 L168.7,212.75 L169.2,214.27 L169.7,215.86 L170.2,217.82 L170.7,220.17 L171.2,222.63 L171.7,224.96 L172.2,227.35 L172.7,229.77 L173.2,232.11 L173.7,234.26 L174.2,236.14 L174.7,237.86 L175.2,239.42 L175.7,240.81 L176.2,242.08 L176.7,243.25 L177.2,244.30 L177.7,245.21 L178.2,246.02 L178.7,246.76 L179.2,247.45 L179.7,248.08 L180.2,248.69 L180.7,249.27 L181.2,249.86 L181.7,250.43 L182.2,250.98 L182.7,251.48 L183.2,251.92 L183.7,252.28 L184.2,252.56 L184.7,252.82 L185.2,253.04 L185.7,253.25 L186.2,253.43 L186.7,253.61 L187.2,253.78 L187.7,253.94 L188.2,254.11 L188.7,254.27 L189.2,254.43 L189.7,254.59 L190.2,254.75 L190.7,254.89 L191.2,255.03 L191.7,255.16 L192.2,255.28 L192.7,255.38 L193.2,255.48 L193.7,255.57 L194.2,255.65 L194.7,255.74 L195.2,255.82 L195.7,255.90 L196.2,255.98 L196.7,256.05 L197.2,256.11 L197.7,256.17 L198.2,256.22 L198.7,256.27 L199.2,256.30 L199.7,256.33 L200.7,256.36 L201.7,256.39 L202.7,256.41 L204.2,256.44 L330.8,256.44 L330.8,256.44 L154.7,256.44 Z" fill="#1f968b" fill-opacity="1" stroke="none"/>
<path d="M154.7,256.44 L155.2,254.93 L155.7,253.85 L156.2,253.05 L156.7,252.18 L157.2,251.25 L157.7,250.29 L158.2,249.26 L158.7,248.13 L159.2,246.91 L159.7,245.60 L160.2,244.17 L160.7,242.61 L161.2,240.90 L161.7,239.01 L162.2,236.91 L162.7,234.54 L163.2,231.76 L163.7,228.71 L164.2,225.64 L164.7,222.47 L165.2,219.11 L165.7,216.32 L166.2,214.56 L166.7,213.06 L167.2,211.91 L167.7,211.36 L168.2,211.66 L168.7,212.75 L169.2,214.27 L169.7,215.86 L170.2,217.82 L170.7,220.17 L171.2,222.63 L171.7,224.96 L172.2,227.35 L172.7,229.77 L173.2,232.11 L173.7,234.26 L174.2,236.14 L174.7,237.86 L175.2,239.42 L175.7,240.81 L176.2,242.08 L176.7,243.25 L177.2,244.30 L177.7,245.21 L178.2,246.02 L178.7,246.76 L179.2,247.45 L179.7,248.08 L180.2,248.69 L180.7,249.27 L181.2,249.86 L181.7,250.43 L182.2,250.98 L182.7,251.48 L183.2,251.92 L183.7,252.28 L184.2,252.56 L184.7,252.82 L185.2,253.04 L185.7,253.25 L186.2,253.43 L186.7,253.61 L187.2,253.78 L187.7,253.94 L188.2,254.11 L188.7,254.27 L189.2,254.43 L189.7,254.59 L190.2,254.75 L190.7,254.89 L191.2,255.03 L191.7,255.16 L192.2,255.28 L192.7,255.38 L193.2,255.48 L193.7,255.57 L194.2,255.65 L194.7,255.74 L195.2,255.82 L195.7,255.90 L196.2,255.98 L196.7,256.05 L197.2,256.11 L197.7,256.17 L198.2,256.22 L198.7,256.27 L199.2,256.30 L199.7,256.33 L200.7,256.36 L201.7,256.39 L202.7,256.41 L204.2,256.44 L330.8,256.44" fill="none" stroke="#1e1e1e" stroke-width="1.25" stroke-linejoin="round"/>
<path d="M154.7,277.62 L155.2,276.78 L155.7,276.05 L156.2,275.45 L156.7,274.90 L157.2,274.29 L157.7,273.52 L158.2,272.49 L158.7,271.18 L159.2,269.63 L159.7,267.88 L160.2,265.84 L160.7,263.20 L161.2,260.01 L161.7,256.32 L162.2,252.90 L162.7,249.46 L163.2,245.70 L163.7,241.57 L164.2,237.70 L164.7,234.35 L165.2,231.22 L165.7,228.86 L166.2,227.32 L166.7,226.04 L167.2,225.30 L167.7,225.40 L168.2,226.29 L168.7,227.64 L169.2,229.20 L169.7,231.50 L170.2,234.28 L170.7,237.02 L171.2,239.67 L171.7,242.40 L172.2,245.05 L172.7,247.49 L173.2,249.72 L173.7,251.83 L174.2,253.87 L174.7,255.91 L175.2,257.92 L175.7,259.88 L176.2,262.02 L176.7,264.79 L177.2,267.59 L177.7,269.40 L178.2,270.70 L178.7,271.70 L179.2,272.53 L179.7,273.20 L180.2,273.71 L180.7,274.16 L181.2,274.58 L181.7,274.95 L182.2,275.28 L182.7,275.56 L183.2,275.80 L183.7,275.99 L184.2,276.14 L184.7,276.28 L185.2,276.41 L185.7,276.53 L186.2,276.64 L186.7,276.74 L187.2,276.83 L187.7,276.92 L188.2,276.99 L188.7,277.06 L189.2,277.12 L189.7,277.18 L190.2,277.22 L190.7,277.27 L191.2,277.31 L191.7,277.36 L192.2,277.40 L192.7,277.44 L193.2,277.47 L193.7,277.51 L194.2,277.54 L194.7,277.56 L195.2,277.59 L196.2,277.62 L330.8,277.62 L330.8,277.66 L154.7,277.66 Z" fill="#238a8d" fill-opacity="1" stroke="none"/>
<path d="M154.7,277.62 L155.2,276.78 L155.7,276.05 L156.2,275.45 L156.7,274.90 L157.2,274.29 L157.7,273.52 L158.2,272.49 L158.7,271.18 L159.2,269.63 L159.7,267.88 L160.2,265.84 L160.7,263.20 L161.2,260.01 L161.7,256.32 L162.2,252.90 L162.7,249.46 L163.2,245.70 L163.7,241.57 L164.2,237.70 L164.7,234.35 L165.2,231.22 L165.7,228.86 L166.2,227.32 L166.7,226.04 L167.2,225.30 L167.7,225.40 L168.2,226.29 L168.7,227.64 L169.2,229.20 L169.7,231.50 L170.2,234.28 L170.7,237.02 L171.2,239.67 L171.7,242.40 L172.2,245.05 L172.7,247.49 L173.2,249.72 L173.7,251.83 L174.2,253.87 L174.7,255.91 L175.2,257.92 L175.7,259.88 L176.2,262.02 L176.7,264.79 L177.2,267.59 L177.7,269.40 L178.2,270.70 L178.7,271.70 L179.2,272.53 L179.7,273.20 L180.2,273.71 L180.7,274.16 L181.2,274.58 L181.7,274.95 L182.2,275.28 L182.7,275.56 L183.2,275.80 L183.7,275.99 L184.2,276.14 L184.7,276.28 L185.2,276.41 L185.7,276.53 L186.2,276.64 L186.7,276.74 L187.2,276.83 L187.7,276.92 L188.2,276.99 L188.7,277.06 L189.2,277.12 L189.7,277.18 L190.2,277.22 L190.7,277.27 L191.2,277.31 L191.7,277.36 L192.2,277.40 L192.7,277.44 L193.2,277.47 L193.7,277.51 L194.2,277.54 L194.7,277.56 L195.2,277.59 L196.2,277.62 L330.8,277.62" fill="none" stroke="#1e1e1e" stroke-width="1.25" stroke-linejoin="round"/>
<path d="M154.7,298.91 L155.2,298.22 L155.7,297.54 L156.2,296.91 L156.7,296.27 L157.2,295.56 L157.7,294.79 L158.2,293.98 L158.7,293.10 L159.2,292.14 L159.7,291.08 L160.2,289.82 L160.7,288.40 L161.2,286.90 L161.7,285.26 L162.2,283.61 L162.7,282.01 L163.2,280.43 L163.7,278.88 L164.2,277.30 L164.7,276.01 L165.2,275.06 L165.7,274.31 L166.2,273.85 L166.7,273.50 L167.2,273.31 L167.7,273.43 L168.2,273.82 L168.7,274.31 L169.2,274.97 L169.7,275.82 L170.2,276.90 L170.7,278.23 L171.2,279.52 L171.7,280.84 L172.2,282.03 L172.7,282.90 L173.2,283.63 L173.7,284.27 L174.2,284.84 L174.7,285.33 L175.2,285.77 L175.7,286.18 L176.2,286.55 L176.7,286.86 L177.2,287.12 L177.7,287.32 L178.2,287.50 L178.7,287.66 L179.2,287.80 L179.7,287.93 L180.2,288.05 L180.7,288.16 L181.2,288.26 L181.7,288.36 L182.2,288.45 L182.7,288.54 L183.2,288.63 L183.7,288.70 L184.2,288.76 L184.7,288.83 L185.2,288.88 L185.7,288.94 L186.2,289.00 L186.7,289.06 L187.2,289.12 L187.7,289.20 L188.2,289.28 L188.7,289.37 L189.2,289.47 L189.7,289.61 L190.2,289.76 L190.7,289.93 L191.2,290.11 L191.7,290.29 L192.2,290.49 L192.7,290.72 L193.2,290.98 L193.7,291.24 L194.2,291.49 L194.7,291.70 L195.2,291.87 L195.7,292.00 L196.2,292.12 L196.7,292.23 L197.2,292.34 L197.7,292.44 L198.2,292.54 L198.7,292.65 L199.2,292.77 L199.7,292.88 L200.2,292.99 L200.7,293.10 L201.2,293.21 L201.7,293.32 L202.2,293.44 L202.7,293.55 L203.2,293.67 L203.7,293.79 L204.2,293.91 L204.7,294.04 L205.2,294.16 L205.7,294.28 L206.2,294.41 L206.7,294.53 L207.2,294.66 L207.7,294.79 L208.2,294.92 L208.7,295.06 L209.2,295.20 L209.7,295.34 L210.2,295.47 L210.7,295.60 L211.2,295.73 L211.7,295.84 L212.2,295.95 L212.7,296.04 L213.2,296.13 L213.7,296.22 L214.2,296.30 L214.7,296.37 L215.2,296.45 L215.7,296.52 L216.2,296.58 L216.7,296.65 L217.2,296.71 L217.7,296.77 L218.2,296.83 L218.7,296.89 L219.2,296.94 L219.7,297.00 L220.2,297.05 L220.7,297.10 L221.2,297.15 L221.7,297.19 L222.2,297.24 L222.7,297.29 L223.2,297.33 L223.7,297.38 L224.2,297.43 L224.7,297.48 L225.2,297.53 L225.7,297.58 L226.2,297.63 L226.7,297.69 L227.2,297.74 L227.7,297.80 L228.2,297.86 L228.7,297.91 L229.2,297.97 L229.7,298.03 L230.2,298.08 L230.7,298.14 L231.2,298.19 L231.7,298.24 L232.2,298.29 L232.7,298.34 L233.2,298.38 L233.7,298.42 L234.2,298.46 L234.7,298.49 L235.2,298.52 L235.7,298.55 L236.2,298.58 L236.7,298.61 L237.2,298.63 L237.7,298.66 L238.2,298.69 L238.7,298.72 L239.2,298.74 L239.7,298.77 L240.2,298.79 L240.7,298.81 L241.7,298.85 L242.7,298.88 L243.7,298.90 L330.8,298.91 L330.8,298.89 L154.7,298.89 Z" fill="#277f8e" fill-opacity="1" stroke="none"/>
<path d="M154.7,298.91 L155.2,298.22 L155.7,297.54 L156.2,296.91 L156.7,296.27 L157.2,295.56 L157.7,294.79 L158.2,293.98 L158.7,293.10 L159.2,292.14 L159.7,291.08 L160.2,289.82 L160.7,288.40 L161.2,286.90 L161.7,285.26 L162.2,283.61 L162.7,282.01 L163.2,280.43 L163.7,278.88 L164.2,277.30 L164.7,276.01 L165.2,275.06 L165.7,274.31 L166.2,273.85 L166.7,273.50 L167.2,273.31 L167.7,273.43 L168.2,273.82 L168.7,274.31 L169.2,274.97 L169.7,275.82 L170.2,276.90 L170.7,278.23 L171.2,279.52 L171.7,280.84 L172.2,282.03 L172.7,282.90 L173.2,283.63 L173.7,284.27 L174.2,284.84 L174.7,285.33 L175.2,285.77 L175.7,286.18 L176.2,286.55 L176.7,286.86 L177.2,287.12 L177.7,287.32 L178.2,287.50 L178.7,287.66 L179.2,287.80 L179.7,287.93 L180.2,288.05 L180.7,288.16 L181.2,288.26 L181.7,288.36 L182.2,288.45 L182.7,288.54 L183.2,288.63 L183.7,288.70 L184.2,288.76 L184.7,288.83 L185.2,288.88 L185.7,288.94 L186.2,289.00 L186.7,289.06 L187.2,289.12 L187.7,289.20 L188.2,289.28 L188.7,289.37 L189.2,289.47 L189.7,289.61 L190.2,289.76 L190.7,289.93 L191.2,290.11 L191.7,290.29 L192.2,290.49 L192.7,290.72 L193.2,290.98 L193.7,291.24 L194.2,291.49 L194.7,291.70 L195.2,291.87 L195.7,292.00 L196.2,292.12 L196.7,292.23 L197.2,292.34 L197.7,292.44 L198.2,292.54 L198.7,292.65 L199.2,292.77 L199.7,292.88 L200.2,292.99 L200.7,293.10 L201.2,293.21 L201.7,293.32 L202.2,293.44 L202.7,293.55 L203.2,293.67 L203.7,293.79 L204.2,293.91 L204.7,294.04 L205.2,294.16 L205.7,294.28 L206.2,294.41 L206.7,294.53 L207.2,294.66 L207.7,294.79 L208.2,294.92 L208.7,295.06 L209.2,295.20 L209.7,295.34 L210.2,295.47 L210.7,295.60 L211.2,295.73 L211.7,295.84 L212.2,295.95 L212.7,296.04 L213.2,296.13 L213.7,296.22 L214.2,296.30 L214.7,296.37 L215.2,296.45 L215.7,296.52 L216.2,296.58 L216.7,296.65 L217.2,296.71 L217.7,296.77 L218.2,296.83 L218.7,296.89 L219.2,296.94 L219.7,297.00 L220.2,297.05 L220.7,297.10 L221.2,297.15 L221.7,297.19 L222.2,297.24 L222.7,297.29 L223.2,297.33 L223.7,297.38 L224.2,297.43 L224.7,297.48 L225.2,297.53 L225.7,297.58 L226.2,297.63 L226.7,297.69 L227.2,297.74 L227.7,297.80 L228.2,297.86 L228.7,297.91 L229.2,297.97 L229.7,298.03 L230.2,298.08 L230.7,298.14 L231.2,298.19 L231.7,298.24 L232.2,298.29 L232.7,298.34 L233.2,298.38 L233.7,298.42 L234.2,298.46 L234.7,298.49 L235.2,298.52 L235.7,298.55 L236.2,298.58 L236.7,298.61 L237.2,298.63 L237.7,298.66 L238.2,298.69 L238.7,298.72 L239.2,298.74 L239.7,298.77 L240.2,298.79 L240.7,298.81 L241.7,298.85 L242.7,298.88 L243.7,298.90 L330.8,298.91" fill="none" stroke="#1e1e1e" stroke-width="1.25" stroke-linejoin="round"/>
<path d="M154.7,320.09 L155.2,319.38 L155.7,318.76 L156.2,318.26 L156.7,317.76 L157.2,317.16 L157.7,316.46 L158.2,315.67 L158.7,314.78 L159.2,313.78 L159.7,312.65 L160.2,311.21 L160.7,309.53 L161.2,307.79 L161.7,305.91 L162.2,303.99 L162.7,302.04 L163.2,300.09 L163.7,298.28 L164.2,296.55 L164.7,295.09 L165.2,293.89 L165.7,292.89 L166.2,292.29 L166.7,291.84 L167.2,291.60 L167.7,291.76 L168.2,292.28 L168.7,292.93 L169.2,293.80 L169.7,294.87 L170.2,296.10 L170.7,297.51 L171.2,298.77 L171.7,299.94 L172.2,301.01 L172.7,301.95 L173.2,302.84 L173.7,303.67 L174.2,304.42 L174.7,305.07 L175.2,305.60 L175.7,306.06 L176.2,306.47 L176.7,306.84 L177.2,307.17 L177.7,307.47 L178.2,307.75 L178.7,308.01 L179.2,308.25 L179.7,308.47 L180.2,308.69 L180.7,308.89 L181.2,309.08 L181.7,309.26 L182.2,309.43 L182.7,309.59 L183.2,309.74 L183.7,309.88 L184.2,310.02 L184.7,310.16 L185.2,310.30 L185.7,310.45 L186.2,310.59 L186.7,310.74 L187.2,310.89 L187.7,311.06 L188.2,311.24 L188.7,311.44 L189.2,311.64 L189.7,311.86 L190.2,312.09 L190.7,312.34 L191.2,312.65 L191.7,312.98 L192.2,313.31 L192.7,313.60 L193.2,313.87 L193.7,314.12 L194.2,314.37 L194.7,314.61 L195.2,314.84 L195.7,315.06 L196.2,315.28 L196.7,315.50 L197.2,315.72 L197.7,315.93 L198.2,316.14 L198.7,316.34 L199.2,316.53 L199.7,316.70 L200.2,316.85 L200.7,317.00 L201.2,317.13 L201.7,317.26 L202.2,317.39 L202.7,317.51 L203.2,317.62 L203.7,317.73 L204.2,317.83 L204.7,317.93 L205.2,318.03 L205.7,318.12 L206.2,318.22 L206.7,318.31 L207.2,318.39 L207.7,318.47 L208.2,318.55 L208.7,318.63 L209.2,318.69 L209.7,318.76 L210.2,318.81 L210.7,318.87 L211.2,318.92 L211.7,318.97 L212.2,319.02 L212.7,319.07 L213.2,319.11 L213.7,319.15 L214.2,319.19 L214.7,319.23 L215.2,319.27 L215.7,319.31 L216.2,319.34 L216.7,319.37 L217.2,319.40 L217.7,319.44 L218.2,319.47 L218.7,319.49 L219.2,319.52 L219.7,319.55 L220.2,319.58 L220.7,319.60 L221.2,319.63 L221.7,319.65 L222.2,319.67 L222.7,319.70 L223.2,319.72 L223.7,319.74 L224.2,319.76 L225.2,319.80 L226.2,319.84 L226.7,319.86 L227.2,319.88 L227.7,319.90 L228.2,319.92 L229.2,319.96 L230.2,320.00 L231.2,320.03 L232.2,320.06 L233.2,320.08 L330.8,320.09 L330.8,320.11 L154.7,320.11 Z" fill="#2c738e" fill-opacity="1" stroke="none"/>
<path d="M154.7,320.09 L155.2,319.38 L155.7,318.76 L156.2,318.26 L156.7,317.76 L157.2,317.16 L157.7,316.46 L158.2,315.67 L158.7,314.78 L159.2,313.78 L159.7,312.65 L160.2,311.21 L160.7,309.53 L161.2,307.79 L161.7,305.91 L162.2,303.99 L162.7,302.04 L163.2,300.09 L163.7,298.28 L164.2,296.55 L164.7,295.09 L165.2,293.89 L165.7,292.89 L166.2,292.29 L166.7,291.84 L167.2,291.60 L167.7,291.76 L168.2,292.28 L168.7,292.93 L169.2,293.80 L169.7,294.87 L170.2,296.10 L170.7,297.51 L171.2,298.77 L171.7,299.94 L172.2,301.01 L172.7,301.95 L173.2,302.84 L173.7,303.67 L174.2,304.42 L174.7,305.07 L175.2,305.60 L175.7,306.06 L176.2,306.47 L176.7,306.84 L177.2,307.17 L177.7,307.47 L178.2,307.75 L178.7,308.01 L179.2,308.25 L179.7,308.47 L180.2,308.69 L180.7,308.89 L181.2,309.08 L181.7,309.26 L182.2,309.43 L182.7,309.59 L183.2,309.74 L183.7,309.88 L184.2,310.02 L184.7,310.16 L185.2,310.30 L185.7,310.45 L186.2,310.59 L186.7,310.74 L187.2,310.89 L187.7,311.06 L188.2,311.24 L188.7,311.44 L189.2,311.64 L189.7,311.86 L190.2,312.09 L190.7,312.34 L191.2,312.65 L191.7,312.98 L192.2,313.31 L192.7,313.60 L193.2,313.87 L193.7,314.12 L194.2,314.37 L194.7,314.61 L195.2,314.84 L195.7,315.06 L196.2,315.28 L196.7,315.50 L197.2,315.72 L197.7,315.93 L198.2,316.14 L198.7,316.34 L199.2,316.53 L199.7,316.70 L200.2,316.85 L200.7,317.00 L201.2,317.13 L201.7,317.26 L202.2,317.39 L202.7,317.51 L203.2,317.62 L203.7,317.73 L204.2,317.83 L204.7,317.93 L205.2,318.03 L205.7,318.12 L206.2,318.22 L206.7,318.31 L207.2,318.39 L207.7,318.47 L208.2,318.55 L208.7,318.63 L209.2,318.69 L209.7,318.76 L210.2,318.81 L210.7,318.87 L211.2,318.92 L211.7,318.97 L212.2,319.02 L212.7,319.07 L213.2,319.11 L213.7,319.15 L214.2,319.19 L214.7,319.23 L215.2,319.27 L215.7,319.31 L216.2,319.34 L216.7,319.37 L217.2,319.40 L217.7,319.44 L218.2,319.47 L218.7,319.49 L219.2,319.52 L219.7,319.55 L220.2,319.58 L220.7,319.60 L221.2,319.63 L221.7,319.65 L222.2,319.67 L222.7,319.70 L223.2,319.72 L223.7,319.74 L224.2,319.76 L225.2,319.80 L226.2,319.84 L226.7,319.86 L227.2,319.88 L227.7,319.90 L228.2,319.92 L229.2,319.96 L230.2,320.00 L231.2,320.03 L232.2,320.06 L233.2,320.08 L330.8,320.09" fill="none" stroke="#1e1e1e" stroke-width="1.25" stroke-linejoin="round"/>
<path d="M154.7,341.38 L173.7,341.35 L175.2,341.33 L176.7,341.31 L177.7,341.28 L178.2,341.27 L178.7,341.24 L179.2,341.21 L179.7,341.16 L180.2,341.10 L180.7,341.04 L181.2,340.97 L181.7,340.89 L182.2,340.82 L182.7,340.75 L183.2,340.66 L183.7,340.57 L184.2,340.46 L184.7,340.35 L185.2,340.22 L185.7,340.08 L186.2,339.92 L186.7,339.75 L187.2,339.58 L187.7,339.41 L188.2,339.24 L188.7,339.06 L189.2,338.88 L189.7,338.69 L190.2,338.50 L190.7,338.29 L191.2,338.07 L191.7,337.84 L192.2,337.61 L192.7,337.38 L193.2,337.15 L193.7,336.91 L194.2,336.67 L194.7,336.43 L195.2,336.18 L195.7,335.92 L196.2,335.66 L196.7,335.40 L197.2,335.13 L197.7,334.87 L198.2,334.61 L198.7,334.35 L199.2,334.08 L199.7,333.83 L200.2,333.58 L200.7,333.32 L201.2,333.07 L201.7,332.82 L202.2,332.60 L202.7,332.40 L203.2,332.21 L203.7,332.04 L204.2,331.88 L204.7,331.75 L205.2,331.63 L205.7,331.52 L206.2,331.42 L206.7,331.34 L207.2,331.29 L208.2,331.29 L208.7,331.31 L209.2,331.34 L209.7,331.37 L210.2,331.41 L210.7,331.45 L211.2,331.49 L211.7,331.55 L212.2,331.61 L212.7,331.68 L213.2,331.76 L213.7,331.83 L214.2,331.90 L214.7,331.95 L215.2,331.99 L215.7,332.03 L216.2,332.06 L216.7,332.09 L217.2,332.12 L217.7,332.15 L218.7,332.17 L219.7,332.16 L220.2,332.14 L220.7,332.11 L221.2,332.08 L221.7,332.04 L222.2,332.00 L222.7,331.96 L223.2,331.91 L223.7,331.86 L224.2,331.81 L224.7,331.74 L225.2,331.68 L225.7,331.61 L226.2,331.55 L226.7,331.48 L227.2,331.40 L227.7,331.31 L228.2,331.23 L228.7,331.15 L229.2,331.07 L229.7,331.01 L230.2,330.96 L230.7,330.91 L231.2,330.87 L231.7,330.83 L232.2,330.79 L232.7,330.76 L233.2,330.73 L233.7,330.69 L234.2,330.66 L234.7,330.63 L235.2,330.60 L235.7,330.56 L236.2,330.53 L236.7,330.51 L237.7,330.48 L239.7,330.50 L240.2,330.52 L240.7,330.54 L241.2,330.57 L241.7,330.60 L242.2,330.68 L242.7,330.79 L243.2,330.93 L243.7,331.08 L244.2,331.24 L244.7,331.44 L245.2,331.67 L245.7,331.94 L246.2,332.21 L246.7,332.49 L247.2,332.77 L247.7,333.04 L248.2,333.31 L248.7,333.59 L249.2,333.87 L249.7,334.15 L250.2,334.42 L250.7,334.68 L251.2,334.94 L251.7,335.19 L252.2,335.44 L252.7,335.67 L253.2,335.89 L253.7,336.10 L254.2,336.30 L254.7,336.50 L255.2,336.69 L255.7,336.86 L256.2,337.00 L256.7,337.12 L257.2,337.24 L257.7,337.35 L258.2,337.45 L258.7,337.52 L259.2,337.57 L259.7,337.57 L260.2,337.54 L260.7,337.47 L261.2,337.39 L261.7,337.30 L262.2,337.22 L262.7,337.15 L263.2,337.07 L263.7,336.98 L264.2,336.89 L264.7,336.83 L265.2,336.78 L265.7,336.78 L266.2,336.85 L266.7,336.97 L267.2,337.13 L267.7,337.31 L268.2,337.48 L268.7,337.64 L269.2,337.81 L269.7,337.99 L270.2,338.18 L270.7,338.35 L271.2,338.50 L271.7,338.62 L272.2,338.72 L272.7,338.81 L273.2,338.90 L273.7,338.98 L274.2,339.05 L274.7,339.11 L275.2,339.17 L275.7,339.22 L276.2,339.27 L276.7,339.31 L277.2,339.35 L277.7,339.40 L278.2,339.43 L278.7,339.47 L279.2,339.51 L279.7,339.54 L280.2,339.57 L280.7,339.60 L281.2,339.63 L281.7,339.66 L282.2,339.69 L282.7,339.71 L283.2,339.74 L283.7,339.77 L284.2,339.79 L284.7,339.81 L285.2,339.84 L285.7,339.86 L286.2,339.88 L286.7,339.90 L287.7,339.94 L288.7,339.98 L289.7,340.01 L290.7,340.05 L291.7,340.08 L292.7,340.11 L293.7,340.14 L294.7,340.17 L295.7,340.20 L296.7,340.22 L297.7,340.24 L298.7,340.27 L299.7,340.29 L300.7,340.32 L301.2,340.34 L301.7,340.36 L302.2,340.39 L302.7,340.43 L303.2,340.49 L303.7,340.56 L304.2,340.64 L304.7,340.72 L305.2,340.81 L305.7,340.91 L306.2,340.99 L306.7,341.08 L307.2,341.15 L307.7,341.21 L308.2,341.25 L308.7,341.28 L309.7,341.30 L310.7,341.33 L312.2,341.35 L314.2,341.37 L330.8,341.38 L330.8,341.34 L154.7,341.34 Z" fill="#31688e" fill-opacity="1" stroke="none"/>
<path d="M154.7,341.38 L173.7,341.35 L175.2,341.33 L176.7,341.31 L177.7,341.28 L178.2,341.27 L178.7,341.24 L179.2,341.21 L179.7,341.16 L180.2,341.10 L180.7,341.04 L181.2,340.97 L181.7,340.89 L182.2,340.82 L182.7,340.75 L183.2,340.66 L183.7,340.57 L184.2,340.46 L184.7,340.35 L185.2,340.22 L185.7,340.08 L186.2,339.92 L186.7,339.75 L187.2,339.58 L187.7,339.41 L188.2,339.24 L188.7,339.06 L189.2,338.88 L189.7,338.69 L190.2,338.50 L190.7,338.29 L191.2,338.07 L191.7,337.84 L192.2,337.61 L192.7,337.38 L193.2,337.15 L193.7,336.91 L194.2,336.67 L194.7,336.43 L195.2,336.18 L195.7,335.92 L196.2,335.66 L196.7,335.40 L197.2,335.13 L197.7,334.87 L198.2,334.61 L198.7,334.35 L199.2,334.08 L199.7,333.83 L200.2,333.58 L200.7,333.32 L201.2,333.07 L201.7,332.82 L202.2,332.60 L202.7,332.40 L203.2,332.21 L203.7,332.04 L204.2,331.88 L204.7,331.75 L205.2,331.63 L205.7,331.52 L206.2,331.42 L206.7,331.34 L207.2,331.29 L208.2,331.29 L208.7,331.31 L209.2,331.34 L209.7,331.37 L210.2,331.41 L210.7,331.45 L211.2,331.49 L211.7,331.55 L212.2,331.61 L212.7,331.68 L213.2,331.76 L213.7,331.83 L214.2,331.90 L214.7,331.95 L215.2,331.99 L215.7,332.03 L216.2,332.06 L216.7,332.09 L217.2,332.12 L217.7,332.15 L218.7,332.17 L219.7,332.16 L220.2,332.14 L220.7,332.11 L221.2,332.08 L221.7,332.04 L222.2,332.00 L222.7,331.96 L223.2,331.91 L223.7,331.86 L224.2,331.81 L224.7,331.74 L225.2,331.68 L225.7,331.61 L226.2,331.55 L226.7,331.48 L227.2,331.40 L227.7,331.31 L228.2,331.23 L228.7,331.15 L229.2,331.07 L229.7,331.01 L230.2,330.96 L230.7,330.91 L231.2,330.87 L231.7,330.83 L232.2,330.79 L232.7,330.76 L233.2,330.73 L233.7,330.69 L234.2,330.66 L234.7,330.63 L235.2,330.60 L235.7,330.56 L236.2,330.53 L236.7,330.51 L237.7,330.48 L239.7,330.50 L240.2,330.52 L240.7,330.54 L241.2,330.57 L241.7,330.60 L242.2,330.68 L242.7,330.79 L243.2,330.93 L243.7,331.08 L244.2,331.24 L244.7,331.44 L245.2,331.67 L245.7,331.94 L246.2,332.21 L246.7,332.49 L247.2,332.77 L247.7,333.04 L248.2,333.31 L248.7,333.59 L249.2,333.87 L249.7,334.15 L250.2,334.42 L250.7,334.68 L251.2,334.94 L251.7,335.19 L252.2,335.44 L252.7,335.67 L253.2,335.89 L253.7,336.10 L254.2,336.30 L254.7,336.50 L255.2,336.69 L255.7,336.86 L256.2,337.00 L256.7,337.12 L257.2,337.24 L257.7,337.35 L258.2,337.45 L258.7,337.52 L259.2,337.57 L259.7,337.57 L260.2,337.54 L260.7,337.47 L261.2,337.39 L261.7,337.30 L262.2,337.22 L262.7,337.15 L263.2,337.07 L263.7,336.98 L264.2,336.89 L264.7,336.83 L265.2,336.78 L265.7,336.78 L266.2,336.85 L266.7,336.97 L267.2,337.13 L267.7,337.31 L268.2,337.48 L268.7,337.64 L269.2,337.81 L269.7,337.99 L270.2,338.18 L270.7,338.35 L271.2,338.50 L271.7,338.62 L272.2,338.72 L272.7,338.81 L273.2,338.90 L273.7,338.98 L274.2,339.05 L274.7,339.11 L275.2,339.17 L275.7,339.22 L276.2,339.27 L276.7,339.31 L277.2,339.35 L277.7,339.40 L278.2,339.43 L278.7,339.47 L279.2,339.51 L279.7,339.54 L280.2,339.57 L280.7,339.60 L281.2,339.63 L281.7,339.66 L282.2,339.69 L282.7,339.71 L283.2,339.74 L283.7,339.77 L284.2,339.79 L284.7,339.81 L285.2,339.84 L285.7,339.86 L286.2,339.88 L286.7,339.90 L287.7,339.94 L288.7,339.98 L289.7,340.01 L290.7,340.05 L291.7,340.08 L292.7,340.11 L293.7,340.14 L294.7,340.17 L295.7,340.20 L296.7,340.22 L297.7,340.24 L298.7,340.27 L299.7,340.29 L300.7,340.32 L301.2,340.34 L301.7,340.36 L302.2,340.39 L302.7,340.43 L303.2,340.49 L303.7,340.56 L304.2,340.64 L304.7,340.72 L305.2,340.81 L305.7,340.91 L306.2,340.99 L306.7,341.08 L307.2,341.15 L307.7,341.21 L308.2,341.25 L308.7,341.28 L309.7,341.30 L310.7,341.33 L312.2,341.35 L314.2,341.37 L330.8,341.38" fill="none" stroke="#1e1e1e" stroke-width="1.25" stroke-linejoin="round"/>
<path d="M154.7,362.56 L156.7,362.53 L158.2,362.50 L159.2,362.48 L160.2,362.45 L161.2,362.43 L162.2,362.40 L162.7,362.38 L163.2,362.36 L163.7,362.33 L164.2,362.31 L164.7,362.28 L165.2,362.25 L165.7,362.21 L166.2,362.16 L166.7,362.09 L167.2,362.02 L167.7,361.93 L168.2,361.83 L168.7,361.71 L169.2,361.51 L169.7,361.24 L170.2,360.90 L170.7,360.50 L171.2,360.05 L171.7,359.48 L172.2,358.67 L172.7,357.78 L173.2,356.92 L173.7,356.02 L174.2,355.11 L174.7,354.24 L175.2,353.46 L175.7,352.74 L176.2,352.06 L176.7,351.42 L177.2,350.81 L177.7,350.23 L178.2,349.66 L178.7,349.11 L179.2,348.61 L179.7,348.17 L180.2,347.83 L180.7,347.53 L181.2,347.27 L181.7,347.04 L182.2,346.85 L182.7,346.70 L183.2,346.56 L183.7,346.43 L184.2,346.33 L184.7,346.27 L186.2,346.29 L186.7,346.31 L187.2,346.34 L187.7,346.38 L188.2,346.45 L188.7,346.57 L189.2,346.71 L189.7,346.86 L190.2,347.03 L190.7,347.24 L191.2,347.48 L191.7,347.74 L192.2,348.01 L192.7,348.26 L193.2,348.54 L193.7,348.83 L194.2,349.11 L194.7,349.35 L195.2,349.52 L195.7,349.67 L196.2,349.79 L196.7,349.90 L197.2,350.00 L197.7,350.10 L198.2,350.18 L198.7,350.26 L199.2,350.34 L199.7,350.41 L200.2,350.49 L200.7,350.57 L201.2,350.65 L201.7,350.73 L202.2,350.81 L202.7,350.89 L203.2,350.96 L203.7,351.03 L204.2,351.11 L204.7,351.20 L205.2,351.31 L205.7,351.47 L206.2,351.66 L206.7,351.88 L207.2,352.12 L207.7,352.36 L208.2,352.63 L208.7,352.93 L209.2,353.25 L209.7,353.57 L210.2,353.89 L210.7,354.23 L211.2,354.57 L211.7,354.92 L212.2,355.26 L212.7,355.59 L213.2,355.92 L213.7,356.25 L214.2,356.56 L214.7,356.83 L215.2,357.04 L215.7,357.21 L216.2,357.37 L216.7,357.52 L217.2,357.65 L217.7,357.77 L218.2,357.89 L218.7,358.01 L219.2,358.12 L219.7,358.23 L220.2,358.33 L220.7,358.43 L221.2,358.52 L221.7,358.61 L222.2,358.71 L222.7,358.80 L223.2,358.88 L223.7,358.97 L224.2,359.06 L224.7,359.14 L225.2,359.22 L225.7,359.30 L226.2,359.38 L226.7,359.46 L227.2,359.54 L227.7,359.62 L228.2,359.69 L228.7,359.77 L229.2,359.84 L229.7,359.92 L230.2,359.99 L230.7,360.06 L231.2,360.14 L231.7,360.21 L232.2,360.28 L232.7,360.35 L233.2,360.42 L233.7,360.49 L234.2,360.56 L234.7,360.62 L235.2,360.68 L235.7,360.73 L236.2,360.78 L236.7,360.83 L237.2,360.88 L237.7,360.92 L238.2,360.97 L238.7,361.02 L239.2,361.06 L239.7,361.11 L240.2,361.15 L240.7,361.19 L241.2,361.23 L241.7,361.27 L242.2,361.30 L242.7,361.33 L243.2,361.36 L243.7,361.39 L244.2,361.42 L244.7,361.44 L245.7,361.47 L246.7,361.50 L247.7,361.53 L248.7,361.56 L249.7,361.59 L250.7,361.61 L252.2,361.64 L254.7,361.66 L255.7,361.65 L256.2,361.63 L256.7,361.60 L257.2,361.57 L257.7,361.53 L258.2,361.49 L258.7,361.44 L259.2,361.40 L259.7,361.36 L260.2,361.33 L260.7,361.30 L261.2,361.27 L262.2,361.26 L262.7,361.29 L263.2,361.33 L263.7,361.40 L264.2,361.48 L264.7,361.57 L265.2,361.67 L265.7,361.77 L266.2,361.88 L266.7,361.98 L267.2,362.07 L267.7,362.15 L268.2,362.21 L268.7,362.26 L269.2,362.30 L269.7,362.33 L270.2,362.37 L270.7,362.40 L271.2,362.43 L271.7,362.46 L272.2,362.48 L272.7,362.51 L273.7,362.54 L330.8,362.56 L330.8,362.56 L154.7,362.56 Z" fill="#365c8d" fill-opacity="1" stroke="none"/>
<path d="M154.7,362.56 L156.7,362.53 L158.2,362.50 L159.2,362.48 L160.2,362.45 L161.2,362.43 L162.2,362.40 L162.7,362.38 L163.2,362.36 L163.7,362.33 L164.2,362.31 L164.7,362.28 L165.2,362.25 L165.7,362.21 L166.2,362.16 L166.7,362.09 L167.2,362.02 L167.7,361.93 L168.2,361.83 L168.7,361.71 L169.2,361.51 L169.7,361.24 L170.2,360.90 L170.7,360.50 L171.2,360.05 L171.7,359.48 L172.2,358.67 L172.7,357.78 L173.2,356.92 L173.7,356.02 L174.2,355.11 L174.7,354.24 L175.2,353.46 L175.7,352.74 L176.2,352.06 L176.7,351.42 L177.2,350.81 L177.7,350.23 L178.2,349.66 L178.7,349.11 L179.2,348.61 L179.7,348.17 L180.2,347.83 L180.7,347.53 L181.2,347.27 L181.7,347.04 L182.2,346.85 L182.7,346.70 L183.2,346.56 L183.7,346.43 L184.2,346.33 L184.7,346.27 L186.2,346.29 L186.7,346.31 L187.2,346.34 L187.7,346.38 L188.2,346.45 L188.7,346.57 L189.2,346.71 L189.7,346.86 L190.2,347.03 L190.7,347.24 L191.2,347.48 L191.7,347.74 L192.2,348.01 L192.7,348.26 L193.2,348.54 L193.7,348.83 L194.2,349.11 L194.7,349.35 L195.2,349.52 L195.7,349.67 L196.2,349.79 L196.7,349.90 L197.2,350.00 L197.7,350.10 L198.2,350.18 L198.7,350.26 L199.2,350.34 L199.7,350.41 L200.2,350.49 L200.7,350.57 L201.2,350.65 L201.7,350.73 L202.2,350.81 L202.7,350.89 L203.2,350.96 L203.7,351.03 L204.2,351.11 L204.7,351.20 L205.2,351.31 L205.7,351.47 L206.2,351.66 L206.7,351.88 L207.2,352.12 L207.7,352.36 L208.2,352.63 L208.7,352.93 L209.2,353.25 L209.7,353.57 L210.2,353.89 L210.7,354.23 L211.2,354.57 L211.7,354.92 L212.2,355.26 L212.7,355.59 L213.2,355.92 L213.7,356.25 L214.2,356.56 L214.7,356.83 L215.2,357.04 L215.7,357.21 L216.2,357.37 L216.7,357.52 L217.2,357.65 L217.7,357.77 L218.2,357.89 L218.7,358.01 L219.2,358.12 L219.7,358.23 L220.2,358.33 L220.7,358.43 L221.2,358.52 L221.7,358.61 L222.2,358.71 L222.7,358.80 L223.2,358.88 L223.7,358.97 L224.2,359.06 L224.7,359.14 L225.2,359.22 L225.7,359.30 L226.2,359.38 L226.7,359.46 L227.2,359.54 L227.7,359.62 L228.2,359.69 L228.7,359.77 L229.2,359.84 L229.7,359.92 L230.2,359.99 L230.7,360.06 L231.2,360.14 L231.7,360.21 L232.2,360.28 L232.7,360.35 L233.2,360.42 L233.7,360.49 L234.2,360.56 L234.7,360.62 L235.2,360.68 L235.7,360.73 L236.2,360.78 L236.7,360.83 L237.2,360.88 L237.7,360.92 L238.2,360.97 L238.7,361.02 L239.2,361.06 L239.7,361.11 L240.2,361.15 L240.7,361.19 L241.2,361.23 L241.7,361.27 L242.2,361.30 L242.7,361.33 L243.2,361.36 L243.7,361.39 L244.2,361.42 L244.7,361.44 L245.7,361.47 L246.7,361.50 L247.7,361.53 L248.7,361.56 L249.7,361.59 L250.7,361.61 L252.2,361.64 L254.7,361.66 L255.7,361.65 L256.2,361.63 L256.7,361.60 L257.2,361.57 L257.7,361.53 L258.2,361.49 L258.7,361.44 L259.2,361.40 L259.7,361.36 L260.2,361.33 L260.7,361.30 L261.2,361.27 L262.2,361.26 L262.7,361.29 L263.2,361.33 L263.7,361.40 L264.2,361.48 L264.7,361.57 L265.2,361.67 L265.7,361.77 L266.2,361.88 L266.7,361.98 L267.2,362.07 L267.7,362.15 L268.2,362.21 L268.7,362.26 L269.2,362.30 L269.7,362.33 L270.2,362.37 L270.7,362.40 L271.2,362.43 L271.7,362.46 L272.2,362.48 L272.7,362.51 L273.7,362.54 L330.8,362.56" fill="none" stroke="#1e1e1e" stroke-width="1.25" stroke-linejoin="round"/>
<path d="M154.7,383.74 L186.2,383.72 L188.7,383.70 L190.7,383.68 L192.2,383.66 L193.7,383.63 L194.2,383.61 L194.7,383.58 L195.2,383.55 L195.7,383.51 L196.2,383.47 L196.7,383.42 L197.2,383.37 L197.7,383.32 L198.2,383.25 L198.7,383.15 L199.2,383.04 L199.7,382.92 L200.2,382.79 L200.7,382.63 L201.2,382.45 L201.7,382.26 L202.2,382.06 L202.7,381.87 L203.2,381.67 L203.7,381.47 L204.2,381.27 L204.7,381.06 L205.2,380.86 L205.7,380.65 L206.2,380.43 L206.7,380.23 L207.2,380.04 L207.7,379.89 L208.2,379.74 L208.7,379.61 L209.2,379.49 L209.7,379.38 L210.2,379.28 L210.7,379.19 L211.2,379.12 L211.7,379.04 L212.2,378.98 L212.7,378.91 L213.2,378.85 L213.7,378.80 L214.2,378.77 L214.7,378.75 L215.7,378.76 L216.2,378.79 L216.7,378.82 L217.2,378.87 L217.7,378.92 L218.2,378.97 L218.7,379.02 L219.2,379.06 L219.7,379.13 L220.2,379.20 L220.7,379.28 L221.2,379.35 L221.7,379.40 L222.2,379.44 L222.7,379.44 L223.2,379.41 L223.7,379.36 L224.2,379.28 L224.7,379.19 L225.2,379.10 L225.7,379.00 L226.2,378.91 L226.7,378.80 L227.2,378.69 L227.7,378.56 L228.2,378.43 L228.7,378.29 L229.2,378.16 L229.7,378.02 L230.2,377.89 L230.7,377.76 L231.2,377.63 L231.7,377.50 L232.2,377.37 L232.7,377.23 L233.2,377.09 L233.7,376.94 L234.2,376.79 L234.7,376.63 L235.2,376.48 L235.7,376.33 L236.2,376.19 L236.7,376.04 L237.2,375.90 L237.7,375.76 L238.2,375.62 L238.7,375.48 L239.2,375.35 L239.7,375.22 L240.2,375.09 L240.7,374.96 L241.2,374.82 L241.7,374.70 L242.2,374.58 L242.7,374.49 L243.2,374.42 L243.7,374.36 L244.2,374.30 L244.7,374.26 L245.2,374.24 L245.7,374.27 L246.2,374.36 L246.7,374.51 L247.2,374.70 L247.7,374.91 L248.2,375.12 L248.7,375.33 L249.2,375.60 L249.7,375.91 L250.2,376.25 L250.7,376.59 L251.2,376.89 L251.7,377.14 L252.2,377.30 L252.7,377.46 L253.2,377.60 L253.7,377.74 L254.2,377.86 L254.7,377.98 L255.2,378.07 L255.7,378.15 L256.2,378.21 L256.7,378.24 L257.2,378.24 L257.7,378.20 L258.2,378.13 L258.7,378.04 L259.2,377.93 L259.7,377.82 L260.2,377.70 L260.7,377.60 L261.2,377.48 L261.7,377.33 L262.2,377.19 L262.7,377.06 L263.2,376.98 L263.7,376.94 L264.2,376.97 L264.7,377.03 L265.2,377.13 L265.7,377.24 L266.2,377.37 L266.7,377.48 L267.2,377.58 L267.7,377.69 L268.2,377.81 L268.7,377.92 L269.2,378.03 L269.7,378.14 L270.2,378.23 L270.7,378.31 L271.2,378.38 L271.7,378.45 L272.2,378.51 L272.7,378.57 L273.2,378.62 L273.7,378.68 L274.2,378.73 L274.7,378.78 L275.2,378.83 L275.7,378.89 L276.2,378.94 L276.7,378.99 L277.2,379.05 L277.7,379.11 L278.2,379.18 L278.7,379.24 L279.2,379.32 L279.7,379.40 L280.2,379.49 L280.7,379.58 L281.2,379.67 L281.7,379.77 L282.2,379.86 L282.7,379.95 L283.2,380.03 L283.7,380.10 L284.2,380.17 L284.7,380.24 L285.2,380.31 L285.7,380.38 L286.2,380.45 L286.7,380.51 L287.2,380.57 L287.7,380.61 L288.2,380.63 L289.7,380.63 L290.2,380.61 L290.7,380.58 L291.2,380.55 L291.7,380.51 L292.2,380.48 L292.7,380.44 L293.2,380.40 L293.7,380.37 L294.2,380.33 L294.7,380.29 L295.2,380.23 L295.7,380.18 L296.2,380.12 L296.7,380.07 L297.2,380.02 L297.7,379.98 L298.2,379.95 L299.2,379.96 L299.7,379.99 L300.2,380.04 L300.7,380.11 L301.2,380.18 L301.7,380.27 L302.2,380.35 L302.7,380.44 L303.2,380.53 L303.7,380.60 L304.2,380.67 L304.7,380.75 L305.2,380.83 L305.7,380.91 L306.2,381.00 L306.7,381.07 L307.2,381.14 L307.7,381.20 L308.2,381.23 L311.7,381.20 L312.7,381.18 L313.7,381.15 L314.7,381.12 L315.2,381.09 L315.7,381.07 L316.2,381.04 L316.7,381.01 L317.2,380.98 L317.7,380.96 L319.2,380.95 L319.7,380.98 L320.2,381.01 L320.7,381.06 L321.2,381.11 L321.7,381.17 L322.2,381.23 L322.7,381.29 L323.2,381.36 L323.7,381.41 L324.2,381.46 L324.7,381.51 L325.2,381.55 L325.7,381.59 L326.2,381.64 L326.7,381.68 L327.2,381.74 L327.7,381.80 L328.2,381.86 L328.7,381.94 L329.2,382.06 L329.7,382.22 L330.2,382.40 L330.7,382.60 L330.8,382.64 L330.8,383.78 L154.7,383.78 Z" fill="#3d4e8a" fill-opacity="1" stroke="none"/>
<path d="M154.7,383.74 L186.2,383.72 L188.7,383.70 L190.7,383.68 L192.2,383.66 L193.7,383.63 L194.2,383.61 L194.7,383.58 L195.2,383.55 L195.7,383.51 L196.2,383.47 L196.7,383.42 L197.2,383.37 L197.7,383.32 L198.2,383.25 L198.7,383.15 L199.2,383.04 L199.7,382.92 L200.2,382.79 L200.7,382.63 L201.2,382.45 L201.7,382.26 L202.2,382.06 L202.7,381.87 L203.2,381.67 L203.7,381.47 L204.2,381.27 L204.7,381.06 L205.2,380.86 L205.7,380.65 L206.2,380.43 L206.7,380.23 L207.2,380.04 L207.7,379.89 L208.2,379.74 L208.7,379.61 L209.2,379.49 L209.7,379.38 L210.2,379.28 L210.7,379.19 L211.2,379.12 L211.7,379.04 L212.2,378.98 L212.7,378.91 L213.2,378.85 L213.7,378.80 L214.2,378.77 L214.7,378.75 L215.7,378.76 L216.2,378.79 L216.7,378.82 L217.2,378.87 L217.7,378.92 L218.2,378.97 L218.7,379.02 L219.2,379.06 L219.7,379.13 L220.2,379.20 L220.7,379.28 L221.2,379.35 L221.7,379.40 L222.2,379.44 L222.7,379.44 L223.2,379.41 L223.7,379.36 L224.2,379.28 L224.7,379.19 L225.2,379.10 L225.7,379.00 L226.2,378.91 L226.7,378.80 L227.2,378.69 L227.7,378.56 L228.2,378.43 L228.7,378.29 L229.2,378.16 L229.7,378.02 L230.2,377.89 L230.7,377.76 L231.2,377.63 L231.7,377.50 L232.2,377.37 L232.7,377.23 L233.2,377.09 L233.7,376.94 L234.2,376.79 L234.7,376.63 L235.2,376.48 L235.7,376.33 L236.2,376.19 L236.7,376.04 L237.2,375.90 L237.7,375.76 L238.2,375.62 L238.7,375.48 L239.2,375.35 L239.7,375.22 L240.2,375.09 L240.7,374.96 L241.2,374.82 L241.7,374.70 L242.2,374.58 L242.7,374.49 L243.2,374.42 L243.7,374.36 L244.2,374.30 L244.7,374.26 L245.2,374.24 L245.7,374.27 L246.2,374.36 L246.7,374.51 L247.2,374.70 L247.7,374.91 L248.2,375.12 L248.7,375.33 L249.2,375.60 L249.7,375.91 L250.2,376.25 L250.7,376.59 L251.2,376.89 L251.7,377.14 L252.2,377.30 L252.7,377.46 L253.2,377.60 L253.7,377.74 L254.2,377.86 L254.7,377.98 L255.2,378.07 L255.7,378.15 L256.2,378.21 L256.7,378.24 L257.2,378.24 L257.7,378.20 L258.2,378.13 L258.7,378.04 L259.2,377.93 L259.7,377.82 L260.2,377.70 L260.7,377.60 L261.2,377.48 L261.7,377.33 L262.2,377.19 L262.7,377.06 L263.2,376.98 L263.7,376.94 L264.2,376.97 L264.7,377.03 L265.2,377.13 L265.7,377.24 L266.2,377.37 L266.7,377.48 L267.2,377.58 L267.7,377.69 L268.2,377.81 L268.7,377.92 L269.2,378.03 L269.7,378.14 L270.2,378.23 L270.7,378.31 L271.2,378.38 L271.7,378.45 L272.2,378.51 L272.7,378.57 L273.2,378.62 L273.7,378.68 L274.2,378.73 L274.7,378.78 L275.2,378.83 L275.7,378.89 L276.2,378.94 L276.7,378.99 L277.2,379.05 L277.7,379.11 L278.2,379.18 L278.7,379.24 L279.2,379.32 L279.7,379.40 L280.2,379.49 L280.7,379.58 L281.2,379.67 L281.7,379.77 L282.2,379.86 L282.7,379.95 L283.2,380.03 L283.7,380.10 L284.2,380.17 L284.7,380.24 L285.2,380.31 L285.7,380.38 L286.2,380.45 L286.7,380.51 L287.2,380.57 L287.7,380.61 L288.2,380.63 L289.7,380.63 L290.2,380.61 L290.7,380.58 L291.2,380.55 L291.7,380.51 L292.2,380.48 L292.7,380.44 L293.2,380.40 L293.7,380.37 L294.2,380.33 L294.7,380.29 L295.2,380.23 L295.7,380.18 L296.2,380.12 L296.7,380.07 L297.2,380.02 L297.7,379.98 L298.2,379.95 L299.2,379.96 L299.7,379.99 L300.2,380.04 L300.7,380.11 L301.2,380.18 L301.7,380.27 L302.2,380.35 L302.7,380.44 L303.2,380.53 L303.7,380.60 L304.2,380.67 L304.7,380.75 L305.2,380.83 L305.7,380.91 L306.2,381.00 L306.7,381.07 L307.2,381.14 L307.7,381.20 L308.2,381.23 L311.7,381.20 L312.7,381.18 L313.7,381.15 L314.7,381.12 L315.2,381.09 L315.7,381.07 L316.2,381.04 L316.7,381.01 L317.2,380.98 L317.7,380.96 L319.2,380.95 L319.7,380.98 L320.2,381.01 L320.7,381.06 L321.2,381.11 L321.7,381.17 L322.2,381.23 L322.7,381.29 L323.2,381.36 L323.7,381.41 L324.2,381.46 L324.7,381.51 L325.2,381.55 L325.7,381.59 L326.2,381.64 L326.7,381.68 L327.2,381.74 L327.7,381.80 L328.2,381.86 L328.7,381.94 L329.2,382.06 L329.7,382.22 L330.2,382.40 L330.7,382.60 L330.8,382.64" fill="none" stroke="#1e1e1e" stroke-width="1.25" stroke-linejoin="round"/>
<path d="M154.7,405.03 L155.2,404.23 L155.7,403.48 L156.2,402.74 L156.7,401.91 L157.2,400.89 L157.7,399.68 L158.2,398.43 L158.7,397.26 L159.2,395.96 L159.7,394.14 L160.2,391.61 L160.7,388.74 L161.2,385.39 L161.7,381.97 L162.2,378.52 L162.7,375.03 L163.2,371.53 L163.7,368.03 L164.2,364.49 L164.7,360.79 L165.2,356.70 L165.7,353.43 L166.2,351.04 L166.7,349.28 L167.2,349.08 L167.7,350.52 L168.2,352.62 L168.7,354.68 L169.2,357.01 L169.7,359.18 L170.2,361.29 L170.7,364.33 L171.2,368.57 L171.7,372.93 L172.2,377.12 L172.7,381.20 L173.2,384.59 L173.7,387.43 L174.2,389.93 L174.7,392.25 L175.2,394.31 L175.7,395.92 L176.2,397.22 L176.7,398.32 L177.2,399.32 L177.7,400.27 L178.2,401.10 L178.7,401.73 L179.2,402.21 L179.7,402.66 L180.2,403.06 L180.7,403.42 L181.2,403.73 L181.7,403.97 L182.2,404.15 L182.7,404.27 L183.2,404.36 L183.7,404.45 L184.2,404.52 L184.7,404.59 L185.2,404.66 L185.7,404.72 L186.2,404.77 L186.7,404.81 L187.2,404.85 L187.7,404.88 L188.2,404.90 L189.2,404.94 L190.2,404.96 L191.2,404.99 L192.7,405.01 L330.8,405.03 L330.8,405.01 L154.7,405.01 Z" fill="#424086" fill-opacity="1" stroke="none"/>
<path d="M154.7,405.03 L155.2,404.23 L155.7,403.48 L156.2,402.74 L156.7,401.91 L157.2,400.89 L157.7,399.68 L158.2,398.43 L158.7,397.26 L159.2,395.96 L159.7,394.14 L160.2,391.61 L160.7,388.74 L161.2,385.39 L161.7,381.97 L162.2,378.52 L162.7,375.03 L163.2,371.53 L163.7,368.03 L164.2,364.49 L164.7,360.79 L165.2,356.70 L165.7,353.43 L166.2,351.04 L166.7,349.28 L167.2,349.08 L167.7,350.52 L168.2,352.62 L168.7,354.68 L169.2,357.01 L169.7,359.18 L170.2,361.29 L170.7,364.33 L171.2,368.57 L171.7,372.93 L172.2,377.12 L172.7,381.20 L173.2,384.59 L173.7,387.43 L174.2,389.93 L174.7,392.25 L175.2,394.31 L175.7,395.92 L176.2,397.22 L176.7,398.32 L177.2,399.32 L177.7,400.27 L178.2,401.10 L178.7,401.73 L179.2,402.21 L179.7,402.66 L180.2,403.06 L180.7,403.42 L181.2,403.73 L181.7,403.97 L182.2,404.15 L182.7,404.27 L183.2,404.36 L183.7,404.45 L184.2,404.52 L184.7,404.59 L185.2,404.66 L185.7,404.72 L186.2,404.77 L186.7,404.81 L187.2,404.85 L187.7,404.88 L188.2,404.90 L189.2,404.94 L190.2,404.96 L191.2,404.99 L192.7,405.01 L330.8,405.03" fill="none" stroke="#1e1e1e" stroke-width="1.25" stroke-linejoin="round"/>
<path d="M154.7,426.21 L155.2,426.17 L155.7,426.06 L156.2,425.88 L156.7,425.65 L157.2,425.39 L157.7,425.09 L158.2,424.78 L158.7,424.33 L159.2,423.75 L159.7,423.06 L160.2,422.28 L160.7,421.44 L161.2,420.53 L161.7,419.40 L162.2,418.07 L162.7,416.63 L163.2,415.15 L163.7,413.72 L164.2,412.39 L164.7,411.07 L165.2,409.74 L165.7,408.44 L166.2,407.20 L166.7,406.04 L167.2,405.01 L167.7,404.06 L168.2,403.17 L168.7,402.34 L169.2,401.56 L169.7,400.82 L170.2,400.08 L170.7,399.38 L171.2,398.77 L171.7,398.29 L172.2,397.93 L172.7,397.59 L173.2,397.34 L173.7,397.22 L174.2,397.28 L174.7,397.54 L175.2,397.91 L175.7,398.33 L176.2,398.80 L176.7,399.43 L177.2,400.17 L177.7,400.95 L178.2,401.73 L178.7,402.62 L179.2,403.55 L179.7,404.44 L180.2,405.20 L180.7,405.89 L181.2,406.52 L181.7,407.13 L182.2,407.74 L182.7,408.37 L183.2,409.00 L183.7,409.64 L184.2,410.27 L184.7,410.87 L185.2,411.44 L185.7,411.99 L186.2,412.53 L186.7,413.06 L187.2,413.58 L187.7,414.08 L188.2,414.57 L188.7,415.05 L189.2,415.51 L189.7,415.95 L190.2,416.38 L190.7,416.80 L191.2,417.21 L191.7,417.61 L192.2,417.99 L192.7,418.37 L193.2,418.73 L193.7,419.08 L194.2,419.41 L194.7,419.73 L195.2,420.03 L195.7,420.32 L196.2,420.60 L196.7,420.86 L197.2,421.12 L197.7,421.37 L198.2,421.61 L198.7,421.84 L199.2,422.06 L199.7,422.28 L200.2,422.50 L200.7,422.70 L201.2,422.91 L201.7,423.10 L202.2,423.29 L202.7,423.47 L203.2,423.65 L203.7,423.81 L204.2,423.98 L204.7,424.14 L205.2,424.30 L205.7,424.45 L206.2,424.59 L206.7,424.73 L207.2,424.85 L207.7,424.95 L208.2,425.06 L208.7,425.15 L209.2,425.25 L209.7,425.34 L210.2,425.42 L210.7,425.50 L211.2,425.57 L211.7,425.63 L212.2,425.69 L212.7,425.73 L213.2,425.77 L213.7,425.81 L214.2,425.85 L214.7,425.89 L215.2,425.93 L215.7,425.96 L216.2,426.00 L216.7,426.03 L217.2,426.06 L217.7,426.09 L218.2,426.11 L218.7,426.14 L219.2,426.16 L220.2,426.19 L221.7,426.21 L330.8,426.21 L330.8,426.23 L154.7,426.23 Z" fill="#46327e" fill-opacity="1" stroke="none"/>
<path d="M154.7,426.21 L155.2,426.17 L155.7,426.06 L156.2,425.88 L156.7,425.65 L157.2,425.39 L157.7,425.09 L158.2,424.78 L158.7,424.33 L159.2,423.75 L159.7,423.06 L160.2,422.28 L160.7,421.44 L161.2,420.53 L161.7,419.40 L162.2,418.07 L162.7,416.63 L163.2,415.15 L163.7,413.72 L164.2,412.39 L164.7,411.07 L165.2,409.74 L165.7,408.44 L166.2,407.20 L166.7,406.04 L167.2,405.01 L167.7,404.06 L168.2,403.17 L168.7,402.34 L169.2,401.56 L169.7,400.82 L170.2,400.08 L170.7,399.38 L171.2,398.77 L171.7,398.29 L172.2,397.93 L172.7,397.59 L173.2,397.34 L173.7,397.22 L174.2,397.28 L174.7,397.54 L175.2,397.91 L175.7,398.33 L176.2,398.80 L176.7,399.43 L177.2,400.17 L177.7,400.95 L178.2,401.73 L178.7,402.62 L179.2,403.55 L179.7,404.44 L180.2,405.20 L180.7,405.89 L181.2,406.52 L181.7,407.13 L182.2,407.74 L182.7,408.37 L183.2,409.00 L183.7,409.64 L184.2,410.27 L184.7,410.87 L185.2,411.44 L185.7,411.99 L186.2,412.53 L186.7,413.06 L187.2,413.58 L187.7,414.08 L188.2,414.57 L188.7,415.05 L189.2,415.51 L189.7,415.95 L190.2,416.38 L190.7,416.80 L191.2,417.21 L191.7,417.61 L192.2,417.99 L192.7,418.37 L193.2,418.73 L193.7,419.08 L194.2,419.41 L194.7,419.73 L195.2,420.03 L195.7,420.32 L196.2,420.60 L196.7,420.86 L197.2,421.12 L197.7,421.37 L198.2,421.61 L198.7,421.84 L199.2,422.06 L199.7,422.28 L200.2,422.50 L200.7,422.70 L201.2,422.91 L201.7,423.10 L202.2,423.29 L202.7,423.47 L203.2,423.65 L203.7,423.81 L204.2,423.98 L204.7,424.14 L205.2,424.30 L205.7,424.45 L206.2,424.59 L206.7,424.73 L207.2,424.85 L207.7,424.95 L208.2,425.06 L208.7,425.15 L209.2,425.25 L209.7,425.34 L210.2,425.42 L210.7,425.50 L211.2,425.57 L211.7,425.63 L212.2,425.69 L212.7,425.73 L213.2,425.77 L213.7,425.81 L214.2,425.85 L214.7,425.89 L215.2,425.93 L215.7,425.96 L216.2,426.00 L216.7,426.03 L217.2,426.06 L217.7,426.09 L218.2,426.11 L218.7,426.14 L219.2,426.16 L220.2,426.19 L221.7,426.21 L330.8,426.21" fill="none" stroke="#1e1e1e" stroke-width="1.25" stroke-linejoin="round"/>
<path d="M154.7,447.50 L155.2,445.99 L155.7,445.32 L156.2,444.84 L156.7,444.25 L157.2,443.38 L157.7,442.34 L158.2,441.18 L158.7,439.94 L159.2,438.65 L159.7,437.25 L160.2,435.68 L160.7,433.90 L161.2,431.73 L161.7,429.15 L162.2,426.30 L162.7,422.99 L163.2,419.37 L163.7,415.98 L164.2,412.77 L164.7,409.84 L165.2,406.98 L165.7,404.71 L166.2,403.25 L166.7,402.03 L167.2,401.42 L167.7,401.83 L168.2,403.18 L168.7,404.68 L169.2,406.29 L169.7,408.14 L170.2,410.16 L170.7,412.36 L171.2,414.87 L171.7,417.30 L172.2,419.49 L172.7,421.61 L173.2,423.63 L173.7,425.56 L174.2,427.39 L174.7,429.21 L175.2,430.94 L175.7,432.52 L176.2,433.90 L176.7,435.11 L177.2,436.25 L177.7,437.30 L178.2,438.27 L178.7,439.14 L179.2,439.92 L179.7,440.60 L180.2,441.24 L180.7,441.83 L181.2,442.39 L181.7,442.89 L182.2,443.35 L182.7,443.75 L183.2,444.10 L183.7,444.41 L184.2,444.71 L184.7,444.99 L185.2,445.26 L185.7,445.51 L186.2,445.75 L186.7,445.96 L187.2,446.15 L187.7,446.31 L188.2,446.45 L188.7,446.56 L189.2,446.64 L189.7,446.72 L190.2,446.79 L190.7,446.86 L191.2,446.92 L191.7,446.98 L192.2,447.03 L192.7,447.08 L193.2,447.12 L193.7,447.16 L194.2,447.20 L194.7,447.23 L195.2,447.26 L195.7,447.28 L196.2,447.30 L197.2,447.34 L198.2,447.38 L199.2,447.41 L200.2,447.44 L201.2,447.47 L202.7,447.49 L330.8,447.50 L330.8,447.46 L154.7,447.46 Z" fill="#482374" fill-opacity="1" stroke="none"/>
<path d="M154.7,447.50 L155.2,445.99 L155.7,445.32 L156.2,444.84 L156.7,444.25 L157.2,443.38 L157.7,442.34 L158.2,441.18 L158.7,439.94 L159.2,438.65 L159.7,437.25 L160.2,435.68 L160.7,433.90 L161.2,431.73 L161.7,429.15 L162.2,426.30 L162.7,422.99 L163.2,419.37 L163.7,415.98 L164.2,412.77 L164.7,409.84 L165.2,406.98 L165.7,404.71 L166.2,403.25 L166.7,402.03 L167.2,401.42 L167.7,401.83 L168.2,403.18 L168.7,404.68 L169.2,406.29 L169.7,408.14 L170.2,410.16 L170.7,412.36 L171.2,414.87 L171.7,417.30 L172.2,419.49 L172.7,421.61 L173.2,423.63 L173.7,425.56 L174.2,427.39 L174.7,429.21 L175.2,430.94 L175.7,432.52 L176.2,433.90 L176.7,435.11 L177.2,436.25 L177.7,437.30 L178.2,438.27 L178.7,439.14 L179.2,439.92 L179.7,440.60 L180.2,441.24 L180.7,441.83 L181.2,442.39 L181.7,442.89 L182.2,443.35 L182.7,443.75 L183.2,444.10 L183.7,444.41 L184.2,444.71 L184.7,444.99 L185.2,445.26 L185.7,445.51 L186.2,445.75 L186.7,445.96 L187.2,446.15 L187.7,446.31 L188.2,446.45 L188.7,446.56 L189.2,446.64 L189.7,446.72 L190.2,446.79 L190.7,446.86 L191.2,446.92 L191.7,446.98 L192.2,447.03 L192.7,447.08 L193.2,447.12 L193.7,447.16 L194.2,447.20 L194.7,447.23 L195.2,447.26 L195.7,447.28 L196.2,447.30 L197.2,447.34 L198.2,447.38 L199.2,447.41 L200.2,447.44 L201.2,447.47 L202.7,447.49 L330.8,447.50" fill="none" stroke="#1e1e1e" stroke-width="1.25" stroke-linejoin="round"/>
<path d="M154.7,468.68 L156.2,468.66 L157.2,468.62 L157.7,468.60 L158.2,468.58 L158.7,468.55 L159.2,468.53 L159.7,468.50 L160.2,468.47 L160.7,468.43 L161.2,468.39 L161.7,468.34 L162.2,468.29 L162.7,468.23 L163.2,468.16 L163.7,468.09 L164.2,468.01 L164.7,467.93 L165.2,467.84 L165.7,467.75 L166.2,467.64 L166.7,467.52 L167.2,467.38 L167.7,467.23 L168.2,467.07 L168.7,466.90 L169.2,466.71 L169.7,466.51 L170.2,466.29 L170.7,466.04 L171.2,465.75 L171.7,465.41 L172.2,465.02 L172.7,464.58 L173.2,464.05 L173.7,463.27 L174.2,462.32 L174.7,461.32 L175.2,460.38 L175.7,459.52 L176.2,458.66 L176.7,457.81 L177.2,457.00 L177.7,456.21 L178.2,455.44 L178.7,454.70 L179.2,454.01 L179.7,453.36 L180.2,452.73 L180.7,452.16 L181.2,451.66 L181.7,451.26 L182.2,450.88 L182.7,450.56 L183.2,450.30 L183.7,450.11 L184.2,449.95 L184.7,449.81 L185.2,449.72 L185.7,449.68 L186.2,449.74 L186.7,449.91 L187.2,450.15 L187.7,450.43 L188.2,450.72 L188.7,450.99 L189.2,451.31 L189.7,451.68 L190.2,452.07 L190.7,452.47 L191.2,452.86 L191.7,453.22 L192.2,453.53 L192.7,453.77 L193.2,453.98 L193.7,454.17 L194.2,454.35 L194.7,454.51 L195.2,454.67 L195.7,454.82 L196.2,454.98 L196.7,455.15 L197.2,455.31 L197.7,455.47 L198.2,455.63 L198.7,455.79 L199.2,455.94 L199.7,456.09 L200.2,456.24 L200.7,456.38 L201.2,456.51 L201.7,456.64 L202.2,456.76 L202.7,456.90 L203.2,457.04 L203.7,457.18 L204.2,457.35 L204.7,457.52 L205.2,457.70 L205.7,457.89 L206.2,458.09 L206.7,458.31 L207.2,458.54 L207.7,458.78 L208.2,459.05 L208.7,459.35 L209.2,459.66 L209.7,459.99 L210.2,460.33 L210.7,460.66 L211.2,460.99 L211.7,461.31 L212.2,461.64 L212.7,461.98 L213.2,462.32 L213.7,462.65 L214.2,462.96 L214.7,463.24 L215.2,463.47 L215.7,463.68 L216.2,463.88 L216.7,464.06 L217.2,464.24 L217.7,464.40 L218.2,464.55 L218.7,464.70 L219.2,464.84 L219.7,464.98 L220.2,465.13 L220.7,465.27 L221.2,465.39 L221.7,465.49 L222.2,465.56 L222.7,465.59 L223.7,465.62 L224.7,465.65 L226.2,465.67 L229.2,465.64 L230.2,465.61 L231.2,465.58 L231.7,465.58 L232.2,465.62 L232.7,465.72 L233.2,465.88 L233.7,466.06 L234.2,466.27 L234.7,466.47 L235.2,466.66 L235.7,466.81 L236.2,466.92 L236.7,467.01 L237.2,467.10 L237.7,467.18 L238.2,467.25 L238.7,467.32 L239.2,467.38 L239.7,467.44 L240.2,467.50 L240.7,467.57 L241.2,467.63 L241.7,467.69 L242.2,467.74 L242.7,467.80 L243.2,467.85 L243.7,467.89 L244.2,467.93 L244.7,467.96 L245.2,467.99 L245.7,468.01 L246.7,468.05 L247.7,468.08 L248.7,468.10 L249.7,468.13 L250.7,468.15 L251.7,468.17 L252.7,468.20 L253.7,468.22 L255.2,468.25 L256.7,468.27 L258.2,468.30 L259.7,468.33 L260.7,468.35 L261.7,468.37 L262.7,468.40 L263.7,468.44 L264.2,468.46 L264.7,468.48 L265.2,468.50 L265.7,468.52 L266.2,468.55 L266.7,468.57 L267.2,468.59 L268.2,468.63 L269.2,468.66 L270.7,468.68 L330.8,468.68 L330.8,468.68 L154.7,468.68 Z" fill="#471365" fill-opacity="1" stroke="none"/>
<path d="M154.7,468.68 L156.2,468.66 L157.2,468.62 L157.7,468.60 L158.2,468.58 L158.7,468.55 L159.2,468.53 L159.7,468.50 L160.2,468.47 L160.7,468.43 L161.2,468.39 L161.7,468.34 L162.2,468.29 L162.7,468.23 L163.2,468.16 L163.7,468.09 L164.2,468.01 L164.7,467.93 L165.2,467.84 L165.7,467.75 L166.2,467.64 L166.7,467.52 L167.2,467.38 L167.7,467.23 L168.2,467.07 L168.7,466.90 L169.2,466.71 L169.7,466.51 L170.2,466.29 L170.7,466.04 L171.2,465.75 L171.7,465.41 L172.2,465.02 L172.7,464.58 L173.2,464.05 L173.7,463.27 L174.2,462.32 L174.7,461.32 L175.2,460.38 L175.7,459.52 L176.2,458.66 L176.7,457.81 L177.2,457.00 L177.7,456.21 L178.2,455.44 L178.7,454.70 L179.2,454.01 L179.7,453.36 L180.2,452.73 L180.7,452.16 L181.2,451.66 L181.7,451.26 L182.2,450.88 L182.7,450.56 L183.2,450.30 L183.7,450.11 L184.2,449.95 L184.7,449.81 L185.2,449.72 L185.7,449.68 L186.2,449.74 L186.7,449.91 L187.2,450.15 L187.7,450.43 L188.2,450.72 L188.7,450.99 L189.2,451.31 L189.7,451.68 L190.2,452.07 L190.7,452.47 L191.2,452.86 L191.7,453.22 L192.2,453.53 L192.7,453.77 L193.2,453.98 L193.7,454.17 L194.2,454.35 L194.7,454.51 L195.2,454.67 L195.7,454.82 L196.2,454.98 L196.7,455.15 L197.2,455.31 L197.7,455.47 L198.2,455.63 L198.7,455.79 L199.2,455.94 L199.7,456.09 L200.2,456.24 L200.7,456.38 L201.2,456.51 L201.7,456.64 L202.2,456.76 L202.7,456.90 L203.2,457.04 L203.7,457.18 L204.2,457.35 L204.7,457.52 L205.2,457.70 L205.7,457.89 L206.2,458.09 L206.7,458.31 L207.2,458.54 L207.7,458.78 L208.2,459.05 L208.7,459.35 L209.2,459.66 L209.7,459.99 L210.2,460.33 L210.7,460.66 L211.2,460.99 L211.7,461.31 L212.2,461.64 L212.7,461.98 L213.2,462.32 L213.7,462.65 L214.2,462.96 L214.7,463.24 L215.2,463.47 L215.7,463.68 L216.2,463.88 L216.7,464.06 L217.2,464.24 L217.7,464.40 L218.2,464.55 L218.7,464.70 L219.2,464.84 L219.7,464.98 L220.2,465.13 L220.7,465.27 L221.2,465.39 L221.7,465.49 L222.2,465.56 L222.7,465.59 L223.7,465.62 L224.7,465.65 L226.2,465.67 L229.2,465.64 L230.2,465.61 L231.2,465.58 L231.7,465.58 L232.2,465.62 L232.7,465.72 L233.2,465.88 L233.7,466.06 L234.2,466.27 L234.7,466.47 L235.2,466.66 L235.7,466.81 L236.2,466.92 L236.7,467.01 L237.2,467.10 L237.7,467.18 L238.2,467.25 L238.7,467.32 L239.2,467.38 L239.7,467.44 L240.2,467.50 L240.7,467.57 L241.2,467.63 L241.7,467.69 L242.2,467.74 L242.7,467.80 L243.2,467.85 L243.7,467.89 L244.2,467.93 L244.7,467.96 L245.2,467.99 L245.7,468.01 L246.7,468.05 L247.7,468.08 L248.7,468.10 L249.7,468.13 L250.7,468.15 L251.7,468.17 L252.7,468.20 L253.7,468.22 L255.2,468.25 L256.7,468.27 L258.2,468.30 L259.7,468.33 L260.7,468.35 L261.7,468.37 L262.7,468.40 L263.7,468.44 L264.2,468.46 L264.7,468.48 L265.2,468.50 L265.7,468.52 L266.2,468.55 L266.7,468.57 L267.2,468.59 L268.2,468.63 L269.2,468.66 L270.7,468.68 L330.8,468.68" fill="none" stroke="#1e1e1e" stroke-width="1.25" stroke-linejoin="round"/>
<path d="M154.7,489.86 L155.2,487.64 L155.7,486.75 L156.2,486.14 L156.7,485.45 L157.2,484.47 L157.7,483.42 L158.2,482.27 L158.7,481.00 L159.2,479.58 L159.7,478.00 L160.2,476.14 L160.7,473.86 L161.2,470.41 L161.7,466.83 L162.2,463.64 L162.7,460.51 L163.2,457.26 L163.7,453.69 L164.2,450.34 L164.7,447.23 L165.2,444.72 L165.7,443.06 L166.2,441.76 L166.7,441.39 L167.2,442.26 L167.7,443.76 L168.2,445.29 L168.7,447.12 L169.2,449.19 L169.7,451.43 L170.2,454.02 L170.7,456.74 L171.2,459.34 L171.7,461.96 L172.2,464.50 L172.7,466.87 L173.2,468.98 L173.7,470.91 L174.2,472.65 L174.7,474.14 L175.2,475.49 L175.7,476.75 L176.2,477.91 L176.7,478.94 L177.2,479.84 L177.7,480.62 L178.2,481.34 L178.7,482.01 L179.2,482.63 L179.7,483.21 L180.2,483.75 L180.7,484.24 L181.2,484.69 L181.7,485.11 L182.2,485.49 L182.7,485.86 L183.2,486.21 L183.7,486.55 L184.2,486.87 L184.7,487.17 L185.2,487.45 L185.7,487.71 L186.2,487.94 L186.7,488.15 L187.2,488.34 L187.7,488.49 L188.2,488.63 L188.7,488.77 L189.2,488.89 L189.7,489.00 L190.2,489.10 L190.7,489.19 L191.2,489.27 L191.7,489.33 L192.2,489.38 L192.7,489.43 L193.2,489.48 L193.7,489.53 L194.2,489.57 L194.7,489.62 L195.2,489.66 L195.7,489.69 L196.2,489.73 L196.7,489.76 L197.2,489.79 L197.7,489.81 L198.7,489.85 L330.8,489.86 L330.8,489.90 L154.7,489.90 Z" fill="#440154" fill-opacity="1" stroke="none"/>
<path d="M154.7,489.86 L155.2,487.64 L155.7,486.75 L156.2,486.14 L156.7,485.45 L157.2,484.47 L157.7,483.42 L158.2,482.27 L158.7,481.00 L159.2,479.58 L159.7,478.00 L160.2,476.14 L160.7,473.86 L161.2,470.41 L161.7,466.83 L162.2,463.64 L162.7,460.51 L163.2,457.26 L163.7,453.69 L164.2,450.34 L164.7,447.23 L165.2,444.72 L165.7,443.06 L166.2,441.76 L166.7,441.39 L167.2,442.26 L167.7,443.76 L168.2,445.29 L168.7,447.12 L169.2,449.19 L169.7,451.43 L170.2,454.02 L170.7,456.74 L171.2,459.34 L171.7,461.96 L172.2,464.50 L172.7,466.87 L173.2,468.98 L173.7,470.91 L174.2,472.65 L174.7,474.14 L175.2,475.49 L175.7,476.75 L176.2,477.91 L176.7,478.94 L177.2,479.84 L177.7,480.62 L178.2,481.34 L178.7,482.01 L179.2,482.63 L179.7,483.21 L180.2,483.75 L180.7,484.24 L181.2,484.69 L181.7,485.11 L182.2,485.49 L182.7,485.86 L183.2,486.21 L183.7,486.55 L184.2,486.87 L184.7,487.17 L185.2,487.45 L185.7,487.71 L186.2,487.94 L186.7,488.15 L187.2,488.34 L187.7,488.49 L188.2,488.63 L188.7,488.77 L189.2,488.89 L189.7,489.00 L190.2,489.10 L190.7,489.19 L191.2,489.27 L191.7,489.33 L192.2,489.38 L192.7,489.43 L193.2,489.48 L193.7,489.53 L194.2,489.57 L194.7,489.62 L195.2,489.66 L195.7,489.69 L196.2,489.73 L196.7,489.76 L197.2,489.79 L197.7,489.81 L198.7,489.85 L330.8,489.86" fill="none" stroke="#1e1e1e" stroke-width="1.25" stroke-linejoin="round"/>
<g stroke="#0a0a0a" fill="none">
<line x1="143.4" y1="502.8" x2="340" y2="502.8" stroke-width="1.7"/>
<line x1="166.2" y1="502.8" x2="166.2" y2="508.40000000000003" stroke-width="1.4"/>
<line x1="221.2" y1="502.8" x2="221.2" y2="508.40000000000003" stroke-width="1.4"/>
<line x1="276.2" y1="502.8" x2="276.2" y2="508.40000000000003" stroke-width="1.4"/>
<line x1="331.0" y1="502.8" x2="331.0" y2="508.40000000000003" stroke-width="1.4"/>
</g>
<g font-family="'Liberation Sans', Arial, Helvetica, sans-serif">
<text transform="translate(166.2,518.5) scale(1,1.0)" font-size="9.3" text-anchor="middle" fill="#1a1a1a" stroke="#1a1a1a" stroke-width="0.35">0.0</text>
<text transform="translate(221.2,518.5) scale(1,1.0)" font-size="9.3" text-anchor="middle" fill="#1a1a1a" stroke="#1a1a1a" stroke-width="0.35">0.2</text>
<text transform="translate(276.2,518.5) scale(1,1.0)" font-size="9.3" text-anchor="middle" fill="#1a1a1a" stroke="#1a1a1a" stroke-width="0.35">0.4</text>
<text transform="translate(331.0,518.5) scale(1,1.0)" font-size="9.3" text-anchor="middle" fill="#1a1a1a" stroke="#1a1a1a" stroke-width="0.35">0.6</text>
<text transform="translate(134.0,48.10) scale(1,1.0)" font-size="9.4" text-anchor="end" fill="#000" stroke="#000" stroke-width="0.2">T cells regulatory</text>
<text transform="translate(134.0,69.32) scale(1,1.0)" font-size="9.4" text-anchor="end" fill="#000" stroke="#000" stroke-width="0.2">T cells gamma delta</text>
<text transform="translate(134.0,90.55) scale(1,1.0)" font-size="9.4" text-anchor="end" fill="#000" stroke="#000" stroke-width="0.2">T cells follicular helper</text>
<text transform="translate(134.0,111.77) scale(1,1.0)" font-size="9.4" text-anchor="end" fill="#000" stroke="#000" stroke-width="0.2">T cells CD8</text>
<text transform="translate(134.0,133.00) scale(1,1.0)" font-size="9.4" text-anchor="end" fill="#000" stroke="#000" stroke-width="0.2">T cells CD4 naive</text>
<text transform="translate(134.0,154.22) scale(1,1.0)" font-size="9.4" text-anchor="end" fill="#000" stroke="#000" stroke-width="0.2">T cells CD4 memory resting</text>
<text transform="translate(134.0,175.44) scale(1,1.0)" font-size="9.4" text-anchor="end" fill="#000" stroke="#000" stroke-width="0.2">T cells CD4 memory activated</text>
<text transform="translate(134.0,196.67) scale(1,1.0)" font-size="9.4" text-anchor="end" fill="#000" stroke="#000" stroke-width="0.2">Plasma cells</text>
<text transform="translate(134.0,217.89) scale(1,1.0)" font-size="9.4" text-anchor="end" fill="#000" stroke="#000" stroke-width="0.2">NK cells resting</text>
<text transform="translate(134.0,239.12) scale(1,1.0)" font-size="9.4" text-anchor="end" fill="#000" stroke="#000" stroke-width="0.2">NK cells activated</text>
<text transform="translate(134.0,260.34) scale(1,1.0)" font-size="9.4" text-anchor="end" fill="#000" stroke="#000" stroke-width="0.2">Neutrophils</text>
<text transform="translate(134.0,281.56) scale(1,1.0)" font-size="9.4" text-anchor="end" fill="#000" stroke="#000" stroke-width="0.2">Monocytes</text>
<text transform="translate(134.0,302.79) scale(1,1.0)" font-size="9.4" text-anchor="end" fill="#000" stroke="#000" stroke-width="0.2">Mast cells resting</text>
<text transform="translate(134.0,324.01) scale(1,1.0)" font-size="9.4" text-anchor="end" fill="#000" stroke="#000" stroke-width="0.2">Mast cells activated</text>
<text transform="translate(134.0,345.24) scale(1,1.0)" font-size="9.4" text-anchor="end" fill="#000" stroke="#000" stroke-width="0.2">Macrophages M2</text>
<text transform="translate(134.0,366.46) scale(1,1.0)" font-size="9.4" text-anchor="end" fill="#000" stroke="#000" stroke-width="0.2">Macrophages M1</text>
<text transform="translate(134.0,387.68) scale(1,1.0)" font-size="9.4" text-anchor="end" fill="#000" stroke="#000" stroke-width="0.2">Macrophages M0</text>
<text transform="translate(134.0,408.91) scale(1,1.0)" font-size="9.4" text-anchor="end" fill="#000" stroke="#000" stroke-width="0.2">Eosinophils</text>
<text transform="translate(134.0,430.13) scale(1,1.0)" font-size="9.4" text-anchor="end" fill="#000" stroke="#000" stroke-width="0.2">Dendritic cells resting</text>
<text transform="translate(134.0,451.36) scale(1,1.0)" font-size="9.4" text-anchor="end" fill="#000" stroke="#000" stroke-width="0.2">Dendritic cells activated</text>
<text transform="translate(134.0,472.58) scale(1,1.0)" font-size="9.4" text-anchor="end" fill="#000" stroke="#000" stroke-width="0.2">B cells naive</text>
<text transform="translate(134.0,493.80) scale(1,1.0)" font-size="9.4" text-anchor="end" fill="#000" stroke="#000" stroke-width="0.2">B cells memory</text>
<text x="239.7" y="542.2" font-size="10.75" font-weight="bold" text-anchor="middle" fill="#111">Absolute TIIC score</text>
</g>
</svg>
</body></html>
